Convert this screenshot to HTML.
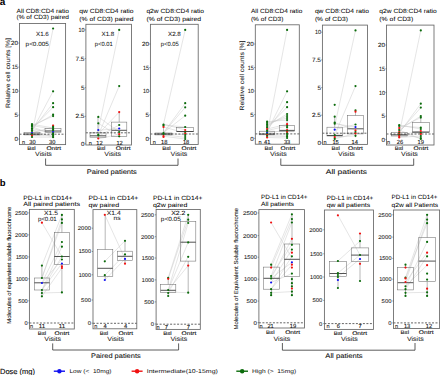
<!DOCTYPE html>
<html><head><meta charset="utf-8"><style>
html,body{margin:0;padding:0;background:#fff;width:440px;height:375px;overflow:hidden}
svg{display:block}
text{font-family:"Liberation Sans", sans-serif;text-rendering:geometricPrecision;white-space:pre}
</style></head><body>
<svg width="440" height="375" viewBox="0 0 440 375">
<rect width="440" height="375" fill="#fff"/>
<line x1="32" y1="134.0" x2="53.1" y2="28.5" stroke="#c4c4c4" stroke-width="0.45"/>
<line x1="32" y1="131.0" x2="53.1" y2="91.3" stroke="#c4c4c4" stroke-width="0.45"/>
<line x1="32" y1="130.0" x2="53.1" y2="103.2" stroke="#c4c4c4" stroke-width="0.45"/>
<line x1="32" y1="128.5" x2="53.1" y2="107.2" stroke="#c4c4c4" stroke-width="0.45"/>
<line x1="32" y1="126.8" x2="53.1" y2="114.6" stroke="#c4c4c4" stroke-width="0.45"/>
<line x1="32" y1="125.5" x2="53.1" y2="116.1" stroke="#c4c4c4" stroke-width="0.45"/>
<line x1="32" y1="124.2" x2="53.1" y2="128.0" stroke="#c4c4c4" stroke-width="0.45"/>
<line x1="32" y1="133.0" x2="53.1" y2="126.8" stroke="#c4c4c4" stroke-width="0.45"/>
<line x1="32" y1="131.0" x2="53.1" y2="130.5" stroke="#c4c4c4" stroke-width="0.45"/>
<line x1="32" y1="128.5" x2="53.1" y2="133.3" stroke="#c4c4c4" stroke-width="0.45"/>
<line x1="32" y1="126.8" x2="53.1" y2="134.5" stroke="#c4c4c4" stroke-width="0.45"/>
<line x1="32" y1="135.5" x2="53.1" y2="135.8" stroke="#c4c4c4" stroke-width="0.45"/>
<line x1="32" y1="137.0" x2="53.1" y2="137.2" stroke="#c4c4c4" stroke-width="0.45"/>
<line x1="32" y1="125.5" x2="53.1" y2="129.3" stroke="#c4c4c4" stroke-width="0.45"/>
<line x1="32" y1="130.0" x2="53.1" y2="137.2" stroke="#c4c4c4" stroke-width="0.45"/>
<line x1="32" y1="134.0" x2="53.1" y2="135.0" stroke="#c4c4c4" stroke-width="0.45"/>
<line x1="32" y1="123.8" x2="32" y2="132.6" stroke="#9a9a9a" stroke-width="0.7"/>
<line x1="32" y1="134.9" x2="32" y2="137.2" stroke="#9a9a9a" stroke-width="0.7"/>
<rect x="24.0" y="132.6" width="16" height="2.3000000000000114" stroke="#707070" stroke-width="0.55" fill="none"/>
<line x1="24.0" y1="134.0" x2="40.0" y2="134.0" stroke="#404040" stroke-width="0.9"/>
<line x1="53" y1="124.5" x2="53" y2="128.4" stroke="#9a9a9a" stroke-width="0.7"/>
<line x1="53" y1="132.2" x2="53" y2="137.5" stroke="#9a9a9a" stroke-width="0.7"/>
<rect x="45.0" y="128.4" width="16" height="3.799999999999983" stroke="#707070" stroke-width="0.55" fill="none"/>
<line x1="45.0" y1="131.0" x2="61.0" y2="131.0" stroke="#404040" stroke-width="0.9"/>
<line x1="19.5" y1="134.2" x2="65.6" y2="134.2" stroke="#222" stroke-width="0.7" stroke-dasharray="2 1.5"/>
<circle cx="32" cy="124.2" r="1.1" fill="#0b6b0b"/>
<circle cx="32" cy="125.5" r="1.1" fill="#0b6b0b"/>
<circle cx="32" cy="126.8" r="1.1" fill="#0b6b0b"/>
<circle cx="32" cy="128.5" r="1.1" fill="#0b6b0b"/>
<circle cx="32" cy="130.0" r="1.1" fill="#0b6b0b"/>
<circle cx="32" cy="131.0" r="1.1" fill="#0b6b0b"/>
<circle cx="32" cy="133.0" r="1.1" fill="#1010f0"/>
<circle cx="32" cy="134.0" r="1.1" fill="#0b6b0b"/>
<circle cx="32" cy="135.5" r="1.1" fill="#f01010"/>
<circle cx="32" cy="137.0" r="1.1" fill="#0b6b0b"/>
<circle cx="53.1" cy="28.5" r="1.1" fill="#0b6b0b"/>
<circle cx="53.1" cy="91.3" r="1.1" fill="#0b6b0b"/>
<circle cx="53.1" cy="103.2" r="1.1" fill="#0b6b0b"/>
<circle cx="53.1" cy="107.2" r="1.1" fill="#0b6b0b"/>
<circle cx="53.1" cy="114.6" r="1.1" fill="#0b6b0b"/>
<circle cx="53.1" cy="116.1" r="1.1" fill="#0b6b0b"/>
<circle cx="53.1" cy="125.5" r="1.1" fill="#f01010"/>
<circle cx="53.1" cy="126.8" r="1.1" fill="#0b6b0b"/>
<circle cx="53.1" cy="128.0" r="1.1" fill="#0b6b0b"/>
<circle cx="53.1" cy="129.3" r="1.1" fill="#0b6b0b"/>
<circle cx="53.1" cy="130.5" r="1.1" fill="#0b6b0b"/>
<circle cx="53.1" cy="132.0" r="1.1" fill="#1010f0"/>
<circle cx="53.1" cy="133.3" r="1.1" fill="#0b6b0b"/>
<circle cx="53.1" cy="134.5" r="1.1" fill="#0b6b0b"/>
<circle cx="53.1" cy="135.8" r="1.1" fill="#0b6b0b"/>
<circle cx="53.1" cy="137.2" r="1.1" fill="#0b6b0b"/>
<rect x="19.5" y="23.5" width="46.099999999999994" height="121.1" stroke="#666666" stroke-width="0.85" fill="none"/>
<line x1="18.3" y1="139.1" x2="19.5" y2="139.1" stroke="#444" stroke-width="0.5"/>
<text x="18.0" y="141.2" font-size="6.0" text-anchor="end" font-weight="normal" fill="#222" stroke="#222" stroke-width="0.08" textLength="3.5" lengthAdjust="spacingAndGlyphs">0</text>
<line x1="18.3" y1="115.1" x2="19.5" y2="115.1" stroke="#444" stroke-width="0.5"/>
<text x="18.0" y="117.19999999999999" font-size="6.0" text-anchor="end" font-weight="normal" fill="#222" stroke="#222" stroke-width="0.08" textLength="3.5" lengthAdjust="spacingAndGlyphs">5</text>
<line x1="18.3" y1="91.1" x2="19.5" y2="91.1" stroke="#444" stroke-width="0.5"/>
<text x="18.0" y="93.19999999999999" font-size="6.0" text-anchor="end" font-weight="normal" fill="#222" stroke="#222" stroke-width="0.08" textLength="6.02" lengthAdjust="spacingAndGlyphs">10</text>
<line x1="18.3" y1="67.1" x2="19.5" y2="67.1" stroke="#444" stroke-width="0.5"/>
<text x="18.0" y="69.19999999999999" font-size="6.0" text-anchor="end" font-weight="normal" fill="#222" stroke="#222" stroke-width="0.08" textLength="6.02" lengthAdjust="spacingAndGlyphs">15</text>
<line x1="18.3" y1="43.1" x2="19.5" y2="43.1" stroke="#444" stroke-width="0.5"/>
<text x="18.0" y="45.2" font-size="6.0" text-anchor="end" font-weight="normal" fill="#222" stroke="#222" stroke-width="0.08" textLength="7.0" lengthAdjust="spacingAndGlyphs">20</text>
<text x="22.0" y="144.4" font-size="5.6" text-anchor="start" font-weight="normal" fill="#222" stroke="#222" stroke-width="0.08">n</text>
<text x="32.5" y="144.4" font-size="5.9" text-anchor="middle" font-weight="normal" fill="#111" stroke="#111" stroke-width="0.1" textLength="6.4" lengthAdjust="spacingAndGlyphs">30</text>
<text x="52.2" y="144.4" font-size="5.9" text-anchor="middle" font-weight="normal" fill="#111" stroke="#111" stroke-width="0.1" textLength="6.4" lengthAdjust="spacingAndGlyphs">30</text>
<text x="31.5" y="149.6" font-size="5.2" text-anchor="middle" font-weight="normal" fill="#111" stroke="#111" stroke-width="0.1" textLength="8.4" lengthAdjust="spacingAndGlyphs">Bsl</text>
<text x="53.8" y="149.6" font-size="5.2" text-anchor="middle" font-weight="normal" fill="#111" stroke="#111" stroke-width="0.1" textLength="14.8" lengthAdjust="spacingAndGlyphs">Ontrt</text>
<text x="43.5" y="156.1" font-size="6.3" text-anchor="middle" font-weight="normal" fill="#111" stroke="#111" stroke-width="0.04" textLength="16.8" lengthAdjust="spacingAndGlyphs">Visits</text>
<text x="16.5" y="12.8" font-size="6.0" text-anchor="start" font-weight="normal" fill="#000" stroke="#000" stroke-width="0.03" textLength="52.5" lengthAdjust="spacingAndGlyphs">All CD8:CD4 ratio</text>
<text x="16.5" y="19.2" font-size="6.0" text-anchor="start" font-weight="normal" fill="#000" stroke="#000" stroke-width="0.03" textLength="52.5" lengthAdjust="spacingAndGlyphs">(% of CD3) paired</text>
<text x="36" y="36.2" font-size="6.0" text-anchor="start" font-weight="normal" fill="#111" stroke="#111" stroke-width="0.04" textLength="12.8" lengthAdjust="spacingAndGlyphs">X1.6</text>
<text x="25.6" y="45.6" font-size="6.0" text-anchor="start" font-weight="normal" fill="#111" stroke="#111" stroke-width="0.04" textLength="23.2" lengthAdjust="spacingAndGlyphs">p&lt;0.005</text>
<line x1="98.3" y1="130.3" x2="119.2" y2="29.9" stroke="#c4c4c4" stroke-width="0.45"/>
<line x1="98.3" y1="135.1" x2="119.2" y2="86.1" stroke="#c4c4c4" stroke-width="0.45"/>
<line x1="98.3" y1="134.0" x2="119.2" y2="112.1" stroke="#c4c4c4" stroke-width="0.45"/>
<line x1="98.3" y1="123.3" x2="119.2" y2="136.3" stroke="#c4c4c4" stroke-width="0.45"/>
<line x1="98.3" y1="116.9" x2="119.2" y2="132.0" stroke="#c4c4c4" stroke-width="0.45"/>
<line x1="98.3" y1="130.3" x2="119.2" y2="128.5" stroke="#c4c4c4" stroke-width="0.45"/>
<line x1="98.3" y1="138.9" x2="119.2" y2="134.2" stroke="#c4c4c4" stroke-width="0.45"/>
<line x1="98.3" y1="136.3" x2="119.2" y2="125.0" stroke="#c4c4c4" stroke-width="0.45"/>
<line x1="98.0" y1="116.9" x2="98.0" y2="132.9" stroke="#9a9a9a" stroke-width="0.7"/>
<line x1="98.0" y1="137.2" x2="98.0" y2="138.9" stroke="#9a9a9a" stroke-width="0.7"/>
<rect x="90.0" y="132.9" width="16" height="4.299999999999983" stroke="#707070" stroke-width="0.55" fill="none"/>
<line x1="90.0" y1="135.8" x2="106.0" y2="135.8" stroke="#404040" stroke-width="0.9"/>
<line x1="119.2" y1="112.1" x2="119.2" y2="122.1" stroke="#9a9a9a" stroke-width="0.7"/>
<line x1="119.2" y1="136.3" x2="119.2" y2="136.3" stroke="#9a9a9a" stroke-width="0.7"/>
<rect x="111.60000000000001" y="122.1" width="15.2" height="14.200000000000017" stroke="#707070" stroke-width="0.55" fill="none"/>
<line x1="111.60000000000001" y1="130.3" x2="126.8" y2="130.3" stroke="#404040" stroke-width="0.9"/>
<line x1="85.9" y1="132.8" x2="131.5" y2="132.8" stroke="#222" stroke-width="0.7" stroke-dasharray="2 1.5"/>
<circle cx="98.3" cy="116.9" r="1.1" fill="#0b6b0b"/>
<circle cx="98.3" cy="123.3" r="1.1" fill="#0b6b0b"/>
<circle cx="98.3" cy="130.0" r="1.1" fill="#1010f0"/>
<circle cx="98.3" cy="134.5" r="1.1" fill="#0b6b0b"/>
<circle cx="98.3" cy="135.5" r="1.1" fill="#0b6b0b"/>
<circle cx="98.3" cy="138.5" r="1.1" fill="#f01010"/>
<circle cx="119.2" cy="29.9" r="1.1" fill="#0b6b0b"/>
<circle cx="119.2" cy="86.1" r="1.1" fill="#0b6b0b"/>
<circle cx="119.2" cy="112.1" r="1.1" fill="#f01010"/>
<circle cx="119.2" cy="125.0" r="1.1" fill="#0b6b0b"/>
<circle cx="119.2" cy="128.5" r="1.1" fill="#1010f0"/>
<circle cx="119.2" cy="132.0" r="1.1" fill="#0b6b0b"/>
<circle cx="119.2" cy="134.2" r="1.1" fill="#f01010"/>
<circle cx="119.2" cy="136.3" r="1.1" fill="#0b6b0b"/>
<rect x="85.9" y="24.3" width="45.599999999999994" height="120.7" stroke="#666666" stroke-width="0.85" fill="none"/>
<line x1="84.7" y1="143.8" x2="85.9" y2="143.8" stroke="#444" stroke-width="0.5"/>
<text x="84.4" y="145.9" font-size="6.0" text-anchor="end" font-weight="normal" fill="#222" stroke="#222" stroke-width="0.08" textLength="3.5" lengthAdjust="spacingAndGlyphs">0</text>
<line x1="84.7" y1="116.3" x2="85.9" y2="116.3" stroke="#444" stroke-width="0.5"/>
<text x="84.4" y="118.39999999999999" font-size="6.0" text-anchor="end" font-weight="normal" fill="#222" stroke="#222" stroke-width="0.08" textLength="9.0" lengthAdjust="spacingAndGlyphs">2.5</text>
<line x1="84.7" y1="87.6" x2="85.9" y2="87.6" stroke="#444" stroke-width="0.5"/>
<text x="84.4" y="89.69999999999999" font-size="6.0" text-anchor="end" font-weight="normal" fill="#222" stroke="#222" stroke-width="0.08" textLength="3.5" lengthAdjust="spacingAndGlyphs">5</text>
<line x1="84.7" y1="58.6" x2="85.9" y2="58.6" stroke="#444" stroke-width="0.5"/>
<text x="84.4" y="60.7" font-size="6.0" text-anchor="end" font-weight="normal" fill="#222" stroke="#222" stroke-width="0.08" textLength="9.0" lengthAdjust="spacingAndGlyphs">7.5</text>
<line x1="84.7" y1="29.9" x2="85.9" y2="29.9" stroke="#444" stroke-width="0.5"/>
<text x="84.4" y="32.0" font-size="6.0" text-anchor="end" font-weight="normal" fill="#222" stroke="#222" stroke-width="0.08" textLength="6.02" lengthAdjust="spacingAndGlyphs">10</text>
<text x="88.80000000000001" y="144.6" font-size="5.6" text-anchor="start" font-weight="normal" fill="#222" stroke="#222" stroke-width="0.08">n</text>
<text x="99.5" y="144.6" font-size="5.9" text-anchor="middle" font-weight="normal" fill="#111" stroke="#111" stroke-width="0.1" textLength="6.4" lengthAdjust="spacingAndGlyphs">12</text>
<text x="119.6" y="144.6" font-size="5.9" text-anchor="middle" font-weight="normal" fill="#111" stroke="#111" stroke-width="0.1" textLength="6.4" lengthAdjust="spacingAndGlyphs">12</text>
<text x="101.1" y="149.9" font-size="5.2" text-anchor="middle" font-weight="normal" fill="#111" stroke="#111" stroke-width="0.1" textLength="8.4" lengthAdjust="spacingAndGlyphs">Bsl</text>
<text x="123.10000000000001" y="149.9" font-size="5.2" text-anchor="middle" font-weight="normal" fill="#111" stroke="#111" stroke-width="0.1" textLength="14.8" lengthAdjust="spacingAndGlyphs">Ontrt</text>
<text x="112.7" y="156.4" font-size="6.3" text-anchor="middle" font-weight="normal" fill="#111" stroke="#111" stroke-width="0.04" textLength="16.8" lengthAdjust="spacingAndGlyphs">Visits</text>
<text x="79.3" y="13.2" font-size="6.0" text-anchor="start" font-weight="normal" fill="#000" stroke="#000" stroke-width="0.03" textLength="54.3" lengthAdjust="spacingAndGlyphs">qw CD8:CD4 ratio</text>
<text x="79.3" y="20.9" font-size="6.0" text-anchor="start" font-weight="normal" fill="#000" stroke="#000" stroke-width="0.03" textLength="54.3" lengthAdjust="spacingAndGlyphs">(% of CD3) paired</text>
<text x="101.5" y="36.3" font-size="6.0" text-anchor="start" font-weight="normal" fill="#111" stroke="#111" stroke-width="0.04" textLength="12.8" lengthAdjust="spacingAndGlyphs">X1.8</text>
<text x="94.8" y="45.6" font-size="6.0" text-anchor="start" font-weight="normal" fill="#111" stroke="#111" stroke-width="0.04" textLength="18" lengthAdjust="spacingAndGlyphs">p&lt;0.01</text>
<line x1="163.5" y1="124.1" x2="185.2" y2="29.9" stroke="#c4c4c4" stroke-width="0.45"/>
<line x1="163.5" y1="132.7" x2="185.2" y2="103.3" stroke="#c4c4c4" stroke-width="0.45"/>
<line x1="163.5" y1="132.7" x2="185.2" y2="107.4" stroke="#c4c4c4" stroke-width="0.45"/>
<line x1="163.5" y1="132.7" x2="185.2" y2="115.7" stroke="#c4c4c4" stroke-width="0.45"/>
<line x1="163.5" y1="125.0" x2="185.2" y2="127.0" stroke="#c4c4c4" stroke-width="0.45"/>
<line x1="163.5" y1="124.1" x2="185.2" y2="130.0" stroke="#c4c4c4" stroke-width="0.45"/>
<line x1="163.5" y1="127.0" x2="185.2" y2="133.0" stroke="#c4c4c4" stroke-width="0.45"/>
<line x1="163.5" y1="134.6" x2="185.2" y2="137.4" stroke="#c4c4c4" stroke-width="0.45"/>
<line x1="163.5" y1="136.3" x2="185.2" y2="139.0" stroke="#c4c4c4" stroke-width="0.45"/>
<line x1="163.5" y1="133.0" x2="185.2" y2="135.0" stroke="#c4c4c4" stroke-width="0.45"/>
<line x1="163.5" y1="124.8" x2="163.5" y2="133.0" stroke="#9a9a9a" stroke-width="0.7"/>
<line x1="163.5" y1="134.9" x2="163.5" y2="137.5" stroke="#9a9a9a" stroke-width="0.7"/>
<rect x="155.0" y="133.0" width="17" height="1.9000000000000057" stroke="#707070" stroke-width="0.55" fill="none"/>
<line x1="155.0" y1="134.0" x2="172.0" y2="134.0" stroke="#404040" stroke-width="0.9"/>
<line x1="185.2" y1="126.5" x2="185.2" y2="127.6" stroke="#9a9a9a" stroke-width="0.7"/>
<line x1="185.2" y1="131.7" x2="185.2" y2="139.5" stroke="#9a9a9a" stroke-width="0.7"/>
<rect x="176.7" y="127.6" width="17" height="4.099999999999994" stroke="#707070" stroke-width="0.55" fill="none"/>
<line x1="176.7" y1="131.5" x2="193.7" y2="131.5" stroke="#404040" stroke-width="0.9"/>
<line x1="150.4" y1="134.0" x2="198.2" y2="134.0" stroke="#222" stroke-width="0.7" stroke-dasharray="2 1.5"/>
<circle cx="163.5" cy="124.6" r="1.1" fill="#0b6b0b"/>
<circle cx="163.5" cy="125.7" r="1.1" fill="#0b6b0b"/>
<circle cx="163.5" cy="127.0" r="1.1" fill="#f01010"/>
<circle cx="163.5" cy="133.0" r="1.1" fill="#0b6b0b"/>
<circle cx="163.5" cy="134.0" r="1.1" fill="#0b6b0b"/>
<circle cx="163.5" cy="136.0" r="1.1" fill="#f01010"/>
<circle cx="163.5" cy="137.0" r="1.1" fill="#f01010"/>
<circle cx="185.2" cy="29.9" r="1.1" fill="#0b6b0b"/>
<circle cx="185.2" cy="103.2" r="1.1" fill="#0b6b0b"/>
<circle cx="185.2" cy="107.3" r="1.1" fill="#0b6b0b"/>
<circle cx="185.2" cy="115.7" r="1.1" fill="#0b6b0b"/>
<circle cx="185.2" cy="127.0" r="1.1" fill="#0b6b0b"/>
<circle cx="185.2" cy="130.0" r="1.1" fill="#f01010"/>
<circle cx="185.2" cy="132.0" r="1.1" fill="#0b6b0b"/>
<circle cx="185.2" cy="133.5" r="1.1" fill="#f01010"/>
<circle cx="185.2" cy="135.0" r="1.1" fill="#0b6b0b"/>
<circle cx="185.2" cy="137.0" r="1.1" fill="#0b6b0b"/>
<circle cx="185.2" cy="139.0" r="1.1" fill="#0b6b0b"/>
<rect x="150.4" y="24.3" width="47.79999999999998" height="120.2" stroke="#666666" stroke-width="0.85" fill="none"/>
<line x1="149.20000000000002" y1="138.4" x2="150.4" y2="138.4" stroke="#444" stroke-width="0.5"/>
<text x="148.9" y="140.5" font-size="6.0" text-anchor="end" font-weight="normal" fill="#222" stroke="#222" stroke-width="0.08" textLength="3.5" lengthAdjust="spacingAndGlyphs">0</text>
<line x1="149.20000000000002" y1="114.8" x2="150.4" y2="114.8" stroke="#444" stroke-width="0.5"/>
<text x="148.9" y="116.89999999999999" font-size="6.0" text-anchor="end" font-weight="normal" fill="#222" stroke="#222" stroke-width="0.08" textLength="3.5" lengthAdjust="spacingAndGlyphs">5</text>
<line x1="149.20000000000002" y1="91.2" x2="150.4" y2="91.2" stroke="#444" stroke-width="0.5"/>
<text x="148.9" y="93.3" font-size="6.0" text-anchor="end" font-weight="normal" fill="#222" stroke="#222" stroke-width="0.08" textLength="6.02" lengthAdjust="spacingAndGlyphs">10</text>
<line x1="149.20000000000002" y1="67.6" x2="150.4" y2="67.6" stroke="#444" stroke-width="0.5"/>
<text x="148.9" y="69.69999999999999" font-size="6.0" text-anchor="end" font-weight="normal" fill="#222" stroke="#222" stroke-width="0.08" textLength="6.02" lengthAdjust="spacingAndGlyphs">15</text>
<line x1="149.20000000000002" y1="44.0" x2="150.4" y2="44.0" stroke="#444" stroke-width="0.5"/>
<text x="148.9" y="46.1" font-size="6.0" text-anchor="end" font-weight="normal" fill="#222" stroke="#222" stroke-width="0.08" textLength="7.0" lengthAdjust="spacingAndGlyphs">20</text>
<text x="152.8" y="144.2" font-size="5.6" text-anchor="start" font-weight="normal" fill="#222" stroke="#222" stroke-width="0.08">n</text>
<text x="164.2" y="144.2" font-size="5.9" text-anchor="middle" font-weight="normal" fill="#111" stroke="#111" stroke-width="0.1" textLength="6.4" lengthAdjust="spacingAndGlyphs">18</text>
<text x="186.1" y="144.2" font-size="5.9" text-anchor="middle" font-weight="normal" fill="#111" stroke="#111" stroke-width="0.1" textLength="6.4" lengthAdjust="spacingAndGlyphs">18</text>
<text x="166.5" y="149.6" font-size="5.2" text-anchor="middle" font-weight="normal" fill="#111" stroke="#111" stroke-width="0.1" textLength="8.4" lengthAdjust="spacingAndGlyphs">Bsl</text>
<text x="188.89999999999998" y="149.6" font-size="5.2" text-anchor="middle" font-weight="normal" fill="#111" stroke="#111" stroke-width="0.1" textLength="14.8" lengthAdjust="spacingAndGlyphs">Ontrt</text>
<text x="179.0" y="156.3" font-size="6.3" text-anchor="middle" font-weight="normal" fill="#111" stroke="#111" stroke-width="0.04" textLength="16.8" lengthAdjust="spacingAndGlyphs">Visits</text>
<text x="146.4" y="13.1" font-size="6.0" text-anchor="start" font-weight="normal" fill="#000" stroke="#000" stroke-width="0.03" textLength="57.6" lengthAdjust="spacingAndGlyphs">q2w CD8:CD4 ratio</text>
<text x="146.4" y="20.9" font-size="6.0" text-anchor="start" font-weight="normal" fill="#000" stroke="#000" stroke-width="0.03" textLength="54.8" lengthAdjust="spacingAndGlyphs">(% of CD3) paired</text>
<text x="168" y="36.3" font-size="6.0" text-anchor="start" font-weight="normal" fill="#111" stroke="#111" stroke-width="0.04" textLength="12.8" lengthAdjust="spacingAndGlyphs">X2.8</text>
<text x="160.8" y="45.6" font-size="6.0" text-anchor="start" font-weight="normal" fill="#111" stroke="#111" stroke-width="0.04" textLength="18" lengthAdjust="spacingAndGlyphs">p&lt;0.05</text>
<line x1="267.1" y1="134.0" x2="287.1" y2="29.9" stroke="#c4c4c4" stroke-width="0.45"/>
<line x1="267.1" y1="132.0" x2="287.1" y2="91.3" stroke="#c4c4c4" stroke-width="0.45"/>
<line x1="267.1" y1="130.5" x2="287.1" y2="102.2" stroke="#c4c4c4" stroke-width="0.45"/>
<line x1="267.1" y1="127.5" x2="287.1" y2="107.2" stroke="#c4c4c4" stroke-width="0.45"/>
<line x1="267.1" y1="126.0" x2="287.1" y2="114.0" stroke="#c4c4c4" stroke-width="0.45"/>
<line x1="267.1" y1="124.5" x2="287.1" y2="116.0" stroke="#c4c4c4" stroke-width="0.45"/>
<line x1="267.1" y1="123.0" x2="287.1" y2="118.0" stroke="#c4c4c4" stroke-width="0.45"/>
<line x1="267.1" y1="121.7" x2="287.1" y2="120.0" stroke="#c4c4c4" stroke-width="0.45"/>
<line x1="267.1" y1="129.0" x2="287.1" y2="124.2" stroke="#c4c4c4" stroke-width="0.45"/>
<line x1="267.1" y1="130.5" x2="287.1" y2="126.0" stroke="#c4c4c4" stroke-width="0.45"/>
<line x1="267.1" y1="133.0" x2="287.1" y2="130.0" stroke="#c4c4c4" stroke-width="0.45"/>
<line x1="267.1" y1="134.0" x2="287.1" y2="133.5" stroke="#c4c4c4" stroke-width="0.45"/>
<line x1="267.1" y1="136.0" x2="287.1" y2="136.5" stroke="#c4c4c4" stroke-width="0.45"/>
<line x1="267.1" y1="137.5" x2="287.1" y2="138.0" stroke="#c4c4c4" stroke-width="0.45"/>
<line x1="267.1" y1="135.0" x2="287.1" y2="135.0" stroke="#c4c4c4" stroke-width="0.45"/>
<line x1="267.1" y1="132.0" x2="287.1" y2="131.0" stroke="#c4c4c4" stroke-width="0.45"/>
<line x1="267.1" y1="121.7" x2="267.1" y2="131.2" stroke="#9a9a9a" stroke-width="0.7"/>
<line x1="267.1" y1="134.8" x2="267.1" y2="137.5" stroke="#9a9a9a" stroke-width="0.7"/>
<rect x="259.6" y="131.2" width="15" height="3.6000000000000227" stroke="#707070" stroke-width="0.55" fill="none"/>
<line x1="259.6" y1="134.0" x2="274.6" y2="134.0" stroke="#404040" stroke-width="0.9"/>
<line x1="287.1" y1="116" x2="287.1" y2="125.3" stroke="#9a9a9a" stroke-width="0.7"/>
<line x1="287.1" y1="131.2" x2="287.1" y2="137.8" stroke="#9a9a9a" stroke-width="0.7"/>
<rect x="279.6" y="125.3" width="15" height="5.8999999999999915" stroke="#707070" stroke-width="0.55" fill="none"/>
<line x1="279.6" y1="130.4" x2="294.6" y2="130.4" stroke="#404040" stroke-width="0.9"/>
<line x1="255.3" y1="133.9" x2="299.3" y2="133.9" stroke="#222" stroke-width="0.7" stroke-dasharray="2 1.5"/>
<circle cx="267.1" cy="121.7" r="1.1" fill="#0b6b0b"/>
<circle cx="267.1" cy="123.0" r="1.1" fill="#0b6b0b"/>
<circle cx="267.1" cy="124.5" r="1.1" fill="#0b6b0b"/>
<circle cx="267.1" cy="126.0" r="1.1" fill="#0b6b0b"/>
<circle cx="267.1" cy="127.5" r="1.1" fill="#0b6b0b"/>
<circle cx="267.1" cy="129.0" r="1.1" fill="#f01010"/>
<circle cx="267.1" cy="130.5" r="1.1" fill="#0b6b0b"/>
<circle cx="267.1" cy="132.0" r="1.1" fill="#0b6b0b"/>
<circle cx="267.1" cy="133.0" r="1.1" fill="#1010f0"/>
<circle cx="267.1" cy="134.0" r="1.1" fill="#0b6b0b"/>
<circle cx="267.1" cy="135.0" r="1.1" fill="#f01010"/>
<circle cx="267.1" cy="136.0" r="1.1" fill="#0b6b0b"/>
<circle cx="267.1" cy="137.5" r="1.1" fill="#f01010"/>
<circle cx="287.1" cy="29.9" r="1.1" fill="#0b6b0b"/>
<circle cx="287.1" cy="91.3" r="1.1" fill="#0b6b0b"/>
<circle cx="287.1" cy="102.2" r="1.1" fill="#0b6b0b"/>
<circle cx="287.1" cy="107.2" r="1.1" fill="#0b6b0b"/>
<circle cx="287.1" cy="114.0" r="1.1" fill="#0b6b0b"/>
<circle cx="287.1" cy="116.0" r="1.1" fill="#0b6b0b"/>
<circle cx="287.1" cy="118.0" r="1.1" fill="#0b6b0b"/>
<circle cx="287.1" cy="120.0" r="1.1" fill="#0b6b0b"/>
<circle cx="287.1" cy="124.2" r="1.1" fill="#f01010"/>
<circle cx="287.1" cy="126.0" r="1.1" fill="#0b6b0b"/>
<circle cx="287.1" cy="127.5" r="1.1" fill="#0b6b0b"/>
<circle cx="287.1" cy="130.0" r="1.1" fill="#f01010"/>
<circle cx="287.1" cy="131.0" r="1.1" fill="#0b6b0b"/>
<circle cx="287.1" cy="132.0" r="1.1" fill="#f01010"/>
<circle cx="287.1" cy="133.5" r="1.1" fill="#0b6b0b"/>
<circle cx="287.1" cy="135.0" r="1.1" fill="#0b6b0b"/>
<circle cx="287.1" cy="136.5" r="1.1" fill="#0b6b0b"/>
<circle cx="287.1" cy="138.0" r="1.1" fill="#0b6b0b"/>
<rect x="255.3" y="24.8" width="44.0" height="119.39999999999999" stroke="#666666" stroke-width="0.85" fill="none"/>
<line x1="254.10000000000002" y1="138.4" x2="255.3" y2="138.4" stroke="#444" stroke-width="0.5"/>
<text x="253.8" y="140.5" font-size="6.0" text-anchor="end" font-weight="normal" fill="#222" stroke="#222" stroke-width="0.08" textLength="3.5" lengthAdjust="spacingAndGlyphs">0</text>
<line x1="254.10000000000002" y1="114.6" x2="255.3" y2="114.6" stroke="#444" stroke-width="0.5"/>
<text x="253.8" y="116.69999999999999" font-size="6.0" text-anchor="end" font-weight="normal" fill="#222" stroke="#222" stroke-width="0.08" textLength="3.5" lengthAdjust="spacingAndGlyphs">5</text>
<line x1="254.10000000000002" y1="91.0" x2="255.3" y2="91.0" stroke="#444" stroke-width="0.5"/>
<text x="253.8" y="93.1" font-size="6.0" text-anchor="end" font-weight="normal" fill="#222" stroke="#222" stroke-width="0.08" textLength="6.02" lengthAdjust="spacingAndGlyphs">10</text>
<line x1="254.10000000000002" y1="67.5" x2="255.3" y2="67.5" stroke="#444" stroke-width="0.5"/>
<text x="253.8" y="69.6" font-size="6.0" text-anchor="end" font-weight="normal" fill="#222" stroke="#222" stroke-width="0.08" textLength="6.02" lengthAdjust="spacingAndGlyphs">15</text>
<line x1="254.10000000000002" y1="44.0" x2="255.3" y2="44.0" stroke="#444" stroke-width="0.5"/>
<text x="253.8" y="46.1" font-size="6.0" text-anchor="end" font-weight="normal" fill="#222" stroke="#222" stroke-width="0.08" textLength="7.0" lengthAdjust="spacingAndGlyphs">20</text>
<text x="258.40000000000003" y="144.0" font-size="5.6" text-anchor="start" font-weight="normal" fill="#222" stroke="#222" stroke-width="0.08">n</text>
<text x="267.2" y="144.0" font-size="5.9" text-anchor="middle" font-weight="normal" fill="#111" stroke="#111" stroke-width="0.1" textLength="6.4" lengthAdjust="spacingAndGlyphs">41</text>
<text x="287.1" y="144.0" font-size="5.9" text-anchor="middle" font-weight="normal" fill="#111" stroke="#111" stroke-width="0.1" textLength="6.4" lengthAdjust="spacingAndGlyphs">33</text>
<text x="268.6" y="149.6" font-size="5.2" text-anchor="middle" font-weight="normal" fill="#111" stroke="#111" stroke-width="0.1" textLength="8.4" lengthAdjust="spacingAndGlyphs">Bsl</text>
<text x="287.90000000000003" y="149.6" font-size="5.2" text-anchor="middle" font-weight="normal" fill="#111" stroke="#111" stroke-width="0.1" textLength="14.8" lengthAdjust="spacingAndGlyphs">Ontrt</text>
<text x="278.4" y="156.2" font-size="6.3" text-anchor="middle" font-weight="normal" fill="#111" stroke="#111" stroke-width="0.04" textLength="16.8" lengthAdjust="spacingAndGlyphs">Visits</text>
<text x="250.9" y="12.9" font-size="6.0" text-anchor="start" font-weight="normal" fill="#000" stroke="#000" stroke-width="0.03" textLength="51.5" lengthAdjust="spacingAndGlyphs">All CD8:CD4 ratio</text>
<text x="250.9" y="20.9" font-size="6.0" text-anchor="start" font-weight="normal" fill="#000" stroke="#000" stroke-width="0.03" textLength="32.5" lengthAdjust="spacingAndGlyphs">(% of CD3)</text>
<line x1="334.7" y1="126.0" x2="355.5" y2="30.4" stroke="#c4c4c4" stroke-width="0.45"/>
<line x1="334.7" y1="135.1" x2="355.5" y2="86.1" stroke="#c4c4c4" stroke-width="0.45"/>
<line x1="334.7" y1="123.7" x2="355.5" y2="127.1" stroke="#c4c4c4" stroke-width="0.45"/>
<line x1="334.7" y1="122.5" x2="355.5" y2="130.3" stroke="#c4c4c4" stroke-width="0.45"/>
<line x1="334.7" y1="129.7" x2="355.5" y2="124.5" stroke="#c4c4c4" stroke-width="0.45"/>
<line x1="334.7" y1="137.2" x2="355.5" y2="135.8" stroke="#c4c4c4" stroke-width="0.45"/>
<line x1="334.7" y1="138.9" x2="355.5" y2="133.5" stroke="#c4c4c4" stroke-width="0.45"/>
<line x1="334.7" y1="135.1" x2="355.5" y2="132.0" stroke="#c4c4c4" stroke-width="0.45"/>
<line x1="334.7" y1="116.6" x2="334.7" y2="127.2" stroke="#9a9a9a" stroke-width="0.7"/>
<line x1="334.7" y1="136.0" x2="334.7" y2="139.5" stroke="#9a9a9a" stroke-width="0.7"/>
<rect x="326.95" y="127.2" width="15.5" height="8.799999999999997" stroke="#707070" stroke-width="0.55" fill="none"/>
<line x1="326.95" y1="135.5" x2="342.45" y2="135.5" stroke="#404040" stroke-width="0.9"/>
<line x1="355.5" y1="110.3" x2="355.5" y2="115.5" stroke="#9a9a9a" stroke-width="0.7"/>
<line x1="355.5" y1="133.9" x2="355.5" y2="137.2" stroke="#9a9a9a" stroke-width="0.7"/>
<rect x="347.5" y="115.5" width="16" height="18.400000000000006" stroke="#707070" stroke-width="0.55" fill="none"/>
<line x1="347.5" y1="128.8" x2="363.5" y2="128.8" stroke="#404040" stroke-width="0.9"/>
<line x1="322.4" y1="133.2" x2="367.5" y2="133.2" stroke="#222" stroke-width="0.7" stroke-dasharray="2 1.5"/>
<circle cx="334.7" cy="104.8" r="1.1" fill="#0b6b0b"/>
<circle cx="334.7" cy="116.7" r="1.1" fill="#0b6b0b"/>
<circle cx="334.7" cy="122.5" r="1.1" fill="#0b6b0b"/>
<circle cx="334.7" cy="123.7" r="1.1" fill="#0b6b0b"/>
<circle cx="334.7" cy="129.7" r="1.1" fill="#1010f0"/>
<circle cx="334.7" cy="135.1" r="1.1" fill="#0b6b0b"/>
<circle cx="334.7" cy="137.2" r="1.1" fill="#f01010"/>
<circle cx="334.7" cy="138.9" r="1.1" fill="#0b6b0b"/>
<circle cx="355.5" cy="30.4" r="1.1" fill="#0b6b0b"/>
<circle cx="355.5" cy="86.1" r="1.1" fill="#0b6b0b"/>
<circle cx="355.5" cy="110.3" r="1.1" fill="#0b6b0b"/>
<circle cx="355.5" cy="111.7" r="1.1" fill="#f01010"/>
<circle cx="355.5" cy="124.5" r="1.1" fill="#0b6b0b"/>
<circle cx="355.5" cy="127.1" r="1.1" fill="#1010f0"/>
<circle cx="355.5" cy="130.3" r="1.1" fill="#f01010"/>
<circle cx="355.5" cy="132.0" r="1.1" fill="#0b6b0b"/>
<circle cx="355.5" cy="133.5" r="1.1" fill="#f01010"/>
<circle cx="355.5" cy="135.8" r="1.1" fill="#0b6b0b"/>
<rect x="322.4" y="25.1" width="45.10000000000002" height="119.30000000000001" stroke="#666666" stroke-width="0.85" fill="none"/>
<line x1="321.2" y1="142.9" x2="322.4" y2="142.9" stroke="#444" stroke-width="0.5"/>
<text x="320.9" y="145.0" font-size="6.0" text-anchor="end" font-weight="normal" fill="#222" stroke="#222" stroke-width="0.08" textLength="3.5" lengthAdjust="spacingAndGlyphs">0</text>
<line x1="321.2" y1="115.2" x2="322.4" y2="115.2" stroke="#444" stroke-width="0.5"/>
<text x="320.9" y="117.3" font-size="6.0" text-anchor="end" font-weight="normal" fill="#222" stroke="#222" stroke-width="0.08" textLength="9.0" lengthAdjust="spacingAndGlyphs">2.5</text>
<line x1="321.2" y1="87.6" x2="322.4" y2="87.6" stroke="#444" stroke-width="0.5"/>
<text x="320.9" y="89.69999999999999" font-size="6.0" text-anchor="end" font-weight="normal" fill="#222" stroke="#222" stroke-width="0.08" textLength="3.5" lengthAdjust="spacingAndGlyphs">5</text>
<line x1="321.2" y1="59.9" x2="322.4" y2="59.9" stroke="#444" stroke-width="0.5"/>
<text x="320.9" y="62.0" font-size="6.0" text-anchor="end" font-weight="normal" fill="#222" stroke="#222" stroke-width="0.08" textLength="9.0" lengthAdjust="spacingAndGlyphs">7.5</text>
<line x1="321.2" y1="32.2" x2="322.4" y2="32.2" stroke="#444" stroke-width="0.5"/>
<text x="320.9" y="34.300000000000004" font-size="6.0" text-anchor="end" font-weight="normal" fill="#222" stroke="#222" stroke-width="0.08" textLength="6.02" lengthAdjust="spacingAndGlyphs">10</text>
<text x="323.4" y="144.2" font-size="5.6" text-anchor="start" font-weight="normal" fill="#222" stroke="#222" stroke-width="0.08">n</text>
<text x="335.6" y="144.2" font-size="5.9" text-anchor="middle" font-weight="normal" fill="#111" stroke="#111" stroke-width="0.1" textLength="6.4" lengthAdjust="spacingAndGlyphs">15</text>
<text x="354.7" y="144.2" font-size="5.9" text-anchor="middle" font-weight="normal" fill="#111" stroke="#111" stroke-width="0.1" textLength="6.4" lengthAdjust="spacingAndGlyphs">14</text>
<text x="335.59999999999997" y="149.9" font-size="5.2" text-anchor="middle" font-weight="normal" fill="#111" stroke="#111" stroke-width="0.1" textLength="8.4" lengthAdjust="spacingAndGlyphs">Bsl</text>
<text x="355.5" y="149.9" font-size="5.2" text-anchor="middle" font-weight="normal" fill="#111" stroke="#111" stroke-width="0.1" textLength="14.8" lengthAdjust="spacingAndGlyphs">Ontrt</text>
<text x="346.5" y="156.4" font-size="6.3" text-anchor="middle" font-weight="normal" fill="#111" stroke="#111" stroke-width="0.04" textLength="16.8" lengthAdjust="spacingAndGlyphs">Visits</text>
<text x="314.9" y="12.9" font-size="6.0" text-anchor="start" font-weight="normal" fill="#000" stroke="#000" stroke-width="0.03" textLength="54.1" lengthAdjust="spacingAndGlyphs">qw CD8:CD4 ratio</text>
<text x="314.9" y="20.9" font-size="6.0" text-anchor="start" font-weight="normal" fill="#000" stroke="#000" stroke-width="0.03" textLength="33" lengthAdjust="spacingAndGlyphs">(% of CD3)</text>
<line x1="399.2" y1="134.0" x2="420.8" y2="30.4" stroke="#c4c4c4" stroke-width="0.45"/>
<line x1="399.2" y1="133.0" x2="420.8" y2="103.7" stroke="#c4c4c4" stroke-width="0.45"/>
<line x1="399.2" y1="132.0" x2="420.8" y2="107.6" stroke="#c4c4c4" stroke-width="0.45"/>
<line x1="399.2" y1="130.0" x2="420.8" y2="116.0" stroke="#c4c4c4" stroke-width="0.45"/>
<line x1="399.2" y1="128.0" x2="420.8" y2="117.6" stroke="#c4c4c4" stroke-width="0.45"/>
<line x1="399.2" y1="126.0" x2="420.8" y2="127.5" stroke="#c4c4c4" stroke-width="0.45"/>
<line x1="399.2" y1="125.0" x2="420.8" y2="129.0" stroke="#c4c4c4" stroke-width="0.45"/>
<line x1="399.2" y1="135.0" x2="420.8" y2="131.0" stroke="#c4c4c4" stroke-width="0.45"/>
<line x1="399.2" y1="136.0" x2="420.8" y2="133.0" stroke="#c4c4c4" stroke-width="0.45"/>
<line x1="399.2" y1="137.5" x2="420.8" y2="136.0" stroke="#c4c4c4" stroke-width="0.45"/>
<line x1="399.2" y1="134.0" x2="420.8" y2="138.0" stroke="#c4c4c4" stroke-width="0.45"/>
<line x1="399.2" y1="130.0" x2="420.8" y2="139.0" stroke="#c4c4c4" stroke-width="0.45"/>
<line x1="399.2" y1="125" x2="399.2" y2="132.4" stroke="#9a9a9a" stroke-width="0.7"/>
<line x1="399.2" y1="136.0" x2="399.2" y2="137.8" stroke="#9a9a9a" stroke-width="0.7"/>
<rect x="391.2" y="132.4" width="16" height="3.5999999999999943" stroke="#707070" stroke-width="0.55" fill="none"/>
<line x1="391.2" y1="134.8" x2="407.2" y2="134.8" stroke="#404040" stroke-width="0.9"/>
<line x1="420.8" y1="116" x2="420.8" y2="122.7" stroke="#9a9a9a" stroke-width="0.7"/>
<line x1="420.8" y1="132.4" x2="420.8" y2="139.2" stroke="#9a9a9a" stroke-width="0.7"/>
<rect x="412.3" y="122.7" width="17" height="9.700000000000003" stroke="#707070" stroke-width="0.55" fill="none"/>
<line x1="412.3" y1="132.0" x2="429.3" y2="132.0" stroke="#404040" stroke-width="0.9"/>
<line x1="386.5" y1="134.0" x2="434.0" y2="134.0" stroke="#222" stroke-width="0.7" stroke-dasharray="2 1.5"/>
<circle cx="399.2" cy="125.0" r="1.1" fill="#0b6b0b"/>
<circle cx="399.2" cy="126.0" r="1.1" fill="#0b6b0b"/>
<circle cx="399.2" cy="128.0" r="1.1" fill="#f01010"/>
<circle cx="399.2" cy="130.0" r="1.1" fill="#0b6b0b"/>
<circle cx="399.2" cy="132.0" r="1.1" fill="#f01010"/>
<circle cx="399.2" cy="133.0" r="1.1" fill="#0b6b0b"/>
<circle cx="399.2" cy="134.0" r="1.1" fill="#f01010"/>
<circle cx="399.2" cy="135.0" r="1.1" fill="#0b6b0b"/>
<circle cx="399.2" cy="136.0" r="1.1" fill="#f01010"/>
<circle cx="399.2" cy="137.5" r="1.1" fill="#f01010"/>
<circle cx="420.8" cy="30.4" r="1.1" fill="#0b6b0b"/>
<circle cx="420.8" cy="103.7" r="1.1" fill="#0b6b0b"/>
<circle cx="420.8" cy="107.6" r="1.1" fill="#0b6b0b"/>
<circle cx="420.8" cy="116.0" r="1.1" fill="#0b6b0b"/>
<circle cx="420.8" cy="117.6" r="1.1" fill="#0b6b0b"/>
<circle cx="420.8" cy="127.5" r="1.1" fill="#0b6b0b"/>
<circle cx="420.8" cy="129.0" r="1.1" fill="#0b6b0b"/>
<circle cx="420.8" cy="131.0" r="1.1" fill="#f01010"/>
<circle cx="420.8" cy="133.0" r="1.1" fill="#0b6b0b"/>
<circle cx="420.8" cy="134.0" r="1.1" fill="#f01010"/>
<circle cx="420.8" cy="136.0" r="1.1" fill="#0b6b0b"/>
<circle cx="420.8" cy="138.0" r="1.1" fill="#0b6b0b"/>
<circle cx="420.8" cy="139.0" r="1.1" fill="#0b6b0b"/>
<rect x="386.5" y="25.1" width="47.5" height="119.9" stroke="#666666" stroke-width="0.85" fill="none"/>
<line x1="385.3" y1="139.4" x2="386.5" y2="139.4" stroke="#444" stroke-width="0.5"/>
<text x="385.0" y="141.5" font-size="6.0" text-anchor="end" font-weight="normal" fill="#222" stroke="#222" stroke-width="0.08" textLength="3.5" lengthAdjust="spacingAndGlyphs">0</text>
<line x1="385.3" y1="116.2" x2="386.5" y2="116.2" stroke="#444" stroke-width="0.5"/>
<text x="385.0" y="118.3" font-size="6.0" text-anchor="end" font-weight="normal" fill="#222" stroke="#222" stroke-width="0.08" textLength="3.5" lengthAdjust="spacingAndGlyphs">5</text>
<line x1="385.3" y1="92.4" x2="386.5" y2="92.4" stroke="#444" stroke-width="0.5"/>
<text x="385.0" y="94.5" font-size="6.0" text-anchor="end" font-weight="normal" fill="#222" stroke="#222" stroke-width="0.08" textLength="6.02" lengthAdjust="spacingAndGlyphs">10</text>
<line x1="385.3" y1="68.8" x2="386.5" y2="68.8" stroke="#444" stroke-width="0.5"/>
<text x="385.0" y="70.89999999999999" font-size="6.0" text-anchor="end" font-weight="normal" fill="#222" stroke="#222" stroke-width="0.08" textLength="6.02" lengthAdjust="spacingAndGlyphs">15</text>
<line x1="385.3" y1="45.0" x2="386.5" y2="45.0" stroke="#444" stroke-width="0.5"/>
<text x="385.0" y="47.1" font-size="6.0" text-anchor="end" font-weight="normal" fill="#222" stroke="#222" stroke-width="0.08" textLength="7.0" lengthAdjust="spacingAndGlyphs">20</text>
<text x="387.1" y="144.4" font-size="5.6" text-anchor="start" font-weight="normal" fill="#222" stroke="#222" stroke-width="0.08">n</text>
<text x="399.9" y="144.4" font-size="5.9" text-anchor="middle" font-weight="normal" fill="#111" stroke="#111" stroke-width="0.1" textLength="6.4" lengthAdjust="spacingAndGlyphs">26</text>
<text x="420.8" y="144.4" font-size="5.9" text-anchor="middle" font-weight="normal" fill="#111" stroke="#111" stroke-width="0.1" textLength="6.4" lengthAdjust="spacingAndGlyphs">19</text>
<text x="399.0" y="149.8" font-size="5.2" text-anchor="middle" font-weight="normal" fill="#111" stroke="#111" stroke-width="0.1" textLength="8.4" lengthAdjust="spacingAndGlyphs">Bsl</text>
<text x="421.0" y="149.8" font-size="5.2" text-anchor="middle" font-weight="normal" fill="#111" stroke="#111" stroke-width="0.1" textLength="14.8" lengthAdjust="spacingAndGlyphs">Ontrt</text>
<text x="409.5" y="156.4" font-size="6.3" text-anchor="middle" font-weight="normal" fill="#111" stroke="#111" stroke-width="0.04" textLength="16.8" lengthAdjust="spacingAndGlyphs">Visits</text>
<text x="379.3" y="12.9" font-size="6.0" text-anchor="start" font-weight="normal" fill="#000" stroke="#000" stroke-width="0.03" textLength="57.5" lengthAdjust="spacingAndGlyphs">q2w CD8:CD4 ratio</text>
<text x="379.3" y="20.9" font-size="6.0" text-anchor="start" font-weight="normal" fill="#000" stroke="#000" stroke-width="0.03" textLength="33.9" lengthAdjust="spacingAndGlyphs">(% of CD3)</text>
<line x1="41.9" y1="222.7" x2="61.9" y2="256.5" stroke="#c4c4c4" stroke-width="0.45"/>
<line x1="41.9" y1="265.6" x2="61.9" y2="214.9" stroke="#c4c4c4" stroke-width="0.45"/>
<line x1="41.9" y1="278.0" x2="61.9" y2="219.4" stroke="#c4c4c4" stroke-width="0.45"/>
<line x1="41.9" y1="278.0" x2="61.9" y2="222.9" stroke="#c4c4c4" stroke-width="0.45"/>
<line x1="41.9" y1="283.0" x2="61.9" y2="242.0" stroke="#c4c4c4" stroke-width="0.45"/>
<line x1="41.9" y1="290.0" x2="61.9" y2="246.7" stroke="#c4c4c4" stroke-width="0.45"/>
<line x1="41.9" y1="290.0" x2="61.9" y2="256.5" stroke="#c4c4c4" stroke-width="0.45"/>
<line x1="41.9" y1="283.0" x2="61.9" y2="259.5" stroke="#c4c4c4" stroke-width="0.45"/>
<line x1="41.9" y1="290.0" x2="61.9" y2="263.5" stroke="#c4c4c4" stroke-width="0.45"/>
<line x1="41.9" y1="293.0" x2="61.9" y2="292.4" stroke="#c4c4c4" stroke-width="0.45"/>
<line x1="41.9" y1="296.3" x2="61.9" y2="268.0" stroke="#c4c4c4" stroke-width="0.45"/>
<line x1="41.9" y1="265.6" x2="41.9" y2="278.0" stroke="#9a9a9a" stroke-width="0.7"/>
<line x1="41.9" y1="290.0" x2="41.9" y2="296.3" stroke="#9a9a9a" stroke-width="0.7"/>
<rect x="34.3" y="278.0" width="15.2" height="12.0" stroke="#707070" stroke-width="0.55" fill="none"/>
<line x1="34.3" y1="282.8" x2="49.5" y2="282.8" stroke="#404040" stroke-width="0.9"/>
<line x1="61.9" y1="214.8" x2="61.9" y2="232.5" stroke="#9a9a9a" stroke-width="0.7"/>
<line x1="61.9" y1="264.5" x2="61.9" y2="292.4" stroke="#9a9a9a" stroke-width="0.7"/>
<rect x="54.3" y="232.5" width="15.2" height="32.0" stroke="#707070" stroke-width="0.55" fill="none"/>
<line x1="54.3" y1="256.5" x2="69.5" y2="256.5" stroke="#404040" stroke-width="0.9"/>
<line x1="29.4" y1="323.0" x2="74.3" y2="323.0" stroke="#222" stroke-width="0.7" stroke-dasharray="2 1.5"/>
<circle cx="41.9" cy="222.7" r="1.1" fill="#f01010"/>
<circle cx="41.9" cy="265.6" r="1.1" fill="#0b6b0b"/>
<circle cx="41.9" cy="278.0" r="1.1" fill="#0b6b0b"/>
<circle cx="41.9" cy="283.0" r="1.1" fill="#1010f0"/>
<circle cx="41.9" cy="290.0" r="1.1" fill="#0b6b0b"/>
<circle cx="41.9" cy="293.0" r="1.1" fill="#0b6b0b"/>
<circle cx="41.9" cy="296.3" r="1.1" fill="#0b6b0b"/>
<circle cx="61.9" cy="214.9" r="1.1" fill="#0b6b0b"/>
<circle cx="61.9" cy="219.4" r="1.1" fill="#0b6b0b"/>
<circle cx="61.9" cy="222.9" r="1.1" fill="#0b6b0b"/>
<circle cx="61.9" cy="242.0" r="1.1" fill="#0b6b0b"/>
<circle cx="61.9" cy="246.7" r="1.1" fill="#0b6b0b"/>
<circle cx="61.9" cy="256.5" r="1.1" fill="#0b6b0b"/>
<circle cx="61.9" cy="259.5" r="1.1" fill="#0b6b0b"/>
<circle cx="61.9" cy="263.5" r="1.1" fill="#1010f0"/>
<circle cx="61.9" cy="266.4" r="1.1" fill="#f01010"/>
<circle cx="61.9" cy="268.0" r="1.1" fill="#f01010"/>
<circle cx="61.9" cy="292.4" r="1.1" fill="#0b6b0b"/>
<rect x="29.4" y="209.4" width="44.9" height="119.6" stroke="#666666" stroke-width="0.85" fill="none"/>
<line x1="28.2" y1="322.8" x2="29.4" y2="322.8" stroke="#444" stroke-width="0.5"/>
<text x="27.799999999999997" y="324.7" font-size="5.5" text-anchor="end" font-weight="normal" fill="#222" stroke="#222" stroke-width="0.08" textLength="3.2" lengthAdjust="spacingAndGlyphs">0</text>
<line x1="28.2" y1="300.8" x2="29.4" y2="300.8" stroke="#444" stroke-width="0.5"/>
<text x="27.799999999999997" y="302.7" font-size="5.5" text-anchor="end" font-weight="normal" fill="#222" stroke="#222" stroke-width="0.08" textLength="9.6" lengthAdjust="spacingAndGlyphs">500</text>
<line x1="28.2" y1="278.8" x2="29.4" y2="278.8" stroke="#444" stroke-width="0.5"/>
<text x="27.799999999999997" y="280.7" font-size="5.5" text-anchor="end" font-weight="normal" fill="#222" stroke="#222" stroke-width="0.08" textLength="11.9" lengthAdjust="spacingAndGlyphs">1000</text>
<line x1="28.2" y1="256.9" x2="29.4" y2="256.9" stroke="#444" stroke-width="0.5"/>
<text x="27.799999999999997" y="258.79999999999995" font-size="5.5" text-anchor="end" font-weight="normal" fill="#222" stroke="#222" stroke-width="0.08" textLength="11.9" lengthAdjust="spacingAndGlyphs">1500</text>
<line x1="28.2" y1="234.9" x2="29.4" y2="234.9" stroke="#444" stroke-width="0.5"/>
<text x="27.799999999999997" y="236.8" font-size="5.5" text-anchor="end" font-weight="normal" fill="#222" stroke="#222" stroke-width="0.08" textLength="12.8" lengthAdjust="spacingAndGlyphs">2000</text>
<line x1="28.2" y1="212.9" x2="29.4" y2="212.9" stroke="#444" stroke-width="0.5"/>
<text x="27.799999999999997" y="214.8" font-size="5.5" text-anchor="end" font-weight="normal" fill="#222" stroke="#222" stroke-width="0.08" textLength="12.8" lengthAdjust="spacingAndGlyphs">2500</text>
<text x="29.9" y="327.7" font-size="5.6" text-anchor="start" font-weight="normal" fill="#222" stroke="#222" stroke-width="0.08">n</text>
<text x="41.9" y="327.7" font-size="5.9" text-anchor="middle" font-weight="normal" fill="#111" stroke="#111" stroke-width="0.1" textLength="6.4" lengthAdjust="spacingAndGlyphs">11</text>
<text x="61.9" y="327.7" font-size="5.9" text-anchor="middle" font-weight="normal" fill="#111" stroke="#111" stroke-width="0.1" textLength="6.4" lengthAdjust="spacingAndGlyphs">11</text>
<text x="41.9" y="334.7" font-size="5.2" text-anchor="middle" font-weight="normal" fill="#111" stroke="#111" stroke-width="0.1" textLength="8.4" lengthAdjust="spacingAndGlyphs">Bsl</text>
<text x="61.9" y="334.7" font-size="5.2" text-anchor="middle" font-weight="normal" fill="#111" stroke="#111" stroke-width="0.1" textLength="14.8" lengthAdjust="spacingAndGlyphs">Ontrt</text>
<text x="52.7" y="341.0" font-size="6.3" text-anchor="middle" font-weight="normal" fill="#111" stroke="#111" stroke-width="0.04" textLength="16.8" lengthAdjust="spacingAndGlyphs">Visits</text>
<text x="23.2" y="199.7" font-size="6.0" text-anchor="start" font-weight="normal" fill="#000" stroke="#000" stroke-width="0.03" textLength="49.3" lengthAdjust="spacingAndGlyphs">PD-L1 in CD14+</text>
<text x="23.2" y="206.1" font-size="6.0" text-anchor="start" font-weight="normal" fill="#000" stroke="#000" stroke-width="0.03" textLength="56.9" lengthAdjust="spacingAndGlyphs">All paired patients</text>
<text x="44" y="215.2" font-size="6.0" text-anchor="start" font-weight="normal" fill="#111" stroke="#111" stroke-width="0.04" textLength="13.9" lengthAdjust="spacingAndGlyphs">X1.5</text>
<text x="37.9" y="220.6" font-size="6.0" text-anchor="start" font-weight="normal" fill="#111" stroke="#111" stroke-width="0.04" textLength="18.8" lengthAdjust="spacingAndGlyphs">p&lt;0.01</text>
<line x1="104.8" y1="214.8" x2="125.0" y2="258.9" stroke="#c4c4c4" stroke-width="0.45"/>
<line x1="104.8" y1="261.3" x2="125.0" y2="240.8" stroke="#c4c4c4" stroke-width="0.45"/>
<line x1="104.8" y1="275.2" x2="125.0" y2="254.4" stroke="#c4c4c4" stroke-width="0.45"/>
<line x1="104.8" y1="280.0" x2="125.0" y2="258.9" stroke="#c4c4c4" stroke-width="0.45"/>
<line x1="105.2" y1="214.8" x2="105.2" y2="249.6" stroke="#9a9a9a" stroke-width="0.7"/>
<line x1="105.2" y1="276.4" x2="105.2" y2="280.0" stroke="#9a9a9a" stroke-width="0.7"/>
<rect x="97.60000000000001" y="249.6" width="15.2" height="26.799999999999983" stroke="#707070" stroke-width="0.55" fill="none"/>
<line x1="97.60000000000001" y1="268.3" x2="112.8" y2="268.3" stroke="#404040" stroke-width="0.9"/>
<line x1="125.0" y1="240.8" x2="125.0" y2="251.2" stroke="#9a9a9a" stroke-width="0.7"/>
<line x1="125.0" y1="260.3" x2="125.0" y2="263.7" stroke="#9a9a9a" stroke-width="0.7"/>
<rect x="117.6" y="251.2" width="14.8" height="9.100000000000023" stroke="#707070" stroke-width="0.55" fill="none"/>
<line x1="117.6" y1="256.3" x2="132.4" y2="256.3" stroke="#404040" stroke-width="0.9"/>
<line x1="93.0" y1="323.3" x2="136.8" y2="323.3" stroke="#222" stroke-width="0.7" stroke-dasharray="2 1.5"/>
<circle cx="104.8" cy="214.8" r="1.1" fill="#f01010"/>
<circle cx="104.8" cy="261.3" r="1.1" fill="#0b6b0b"/>
<circle cx="104.8" cy="275.2" r="1.1" fill="#0b6b0b"/>
<circle cx="104.8" cy="280.0" r="1.1" fill="#1010f0"/>
<circle cx="125.0" cy="240.8" r="1.1" fill="#0b6b0b"/>
<circle cx="125.0" cy="254.4" r="1.1" fill="#0b6b0b"/>
<circle cx="125.0" cy="258.9" r="1.1" fill="#1010f0"/>
<circle cx="125.0" cy="263.7" r="1.1" fill="#f01010"/>
<rect x="93.0" y="209.6" width="43.80000000000001" height="119.20000000000002" stroke="#666666" stroke-width="0.85" fill="none"/>
<line x1="91.8" y1="323.2" x2="93.0" y2="323.2" stroke="#444" stroke-width="0.5"/>
<text x="91.0" y="325.09999999999997" font-size="5.5" text-anchor="end" font-weight="normal" fill="#222" stroke="#222" stroke-width="0.08" textLength="3.3" lengthAdjust="spacingAndGlyphs">0</text>
<line x1="91.8" y1="300.0" x2="93.0" y2="300.0" stroke="#444" stroke-width="0.5"/>
<text x="91.0" y="301.9" font-size="5.5" text-anchor="end" font-weight="normal" fill="#222" stroke="#222" stroke-width="0.08" textLength="9.9" lengthAdjust="spacingAndGlyphs">500</text>
<line x1="91.8" y1="274.8" x2="93.0" y2="274.8" stroke="#444" stroke-width="0.5"/>
<text x="91.0" y="276.7" font-size="5.5" text-anchor="end" font-weight="normal" fill="#222" stroke="#222" stroke-width="0.08" textLength="12.28" lengthAdjust="spacingAndGlyphs">1000</text>
<line x1="91.8" y1="251.5" x2="93.0" y2="251.5" stroke="#444" stroke-width="0.5"/>
<text x="91.0" y="253.4" font-size="5.5" text-anchor="end" font-weight="normal" fill="#222" stroke="#222" stroke-width="0.08" textLength="12.28" lengthAdjust="spacingAndGlyphs">1500</text>
<line x1="91.8" y1="228.2" x2="93.0" y2="228.2" stroke="#444" stroke-width="0.5"/>
<text x="91.0" y="230.1" font-size="5.5" text-anchor="end" font-weight="normal" fill="#222" stroke="#222" stroke-width="0.08" textLength="13.2" lengthAdjust="spacingAndGlyphs">2000</text>
<text x="94.2" y="327.7" font-size="5.6" text-anchor="start" font-weight="normal" fill="#222" stroke="#222" stroke-width="0.08">n</text>
<text x="105.1" y="327.7" font-size="5.9" text-anchor="middle" font-weight="normal" fill="#111" stroke="#111" stroke-width="0.1" textLength="3.2" lengthAdjust="spacingAndGlyphs">4</text>
<text x="125.5" y="327.7" font-size="5.9" text-anchor="middle" font-weight="normal" fill="#111" stroke="#111" stroke-width="0.1" textLength="3.2" lengthAdjust="spacingAndGlyphs">4</text>
<text x="103.89999999999999" y="334.8" font-size="5.2" text-anchor="middle" font-weight="normal" fill="#111" stroke="#111" stroke-width="0.1" textLength="8.4" lengthAdjust="spacingAndGlyphs">Bsl</text>
<text x="125.8" y="334.8" font-size="5.2" text-anchor="middle" font-weight="normal" fill="#111" stroke="#111" stroke-width="0.1" textLength="14.8" lengthAdjust="spacingAndGlyphs">Ontrt</text>
<text x="115.7" y="341.0" font-size="6.3" text-anchor="middle" font-weight="normal" fill="#111" stroke="#111" stroke-width="0.04" textLength="16.8" lengthAdjust="spacingAndGlyphs">Visits</text>
<text x="88.5" y="199.8" font-size="6.0" text-anchor="start" font-weight="normal" fill="#000" stroke="#000" stroke-width="0.03" textLength="49.8" lengthAdjust="spacingAndGlyphs">PD-L1 in CD14+</text>
<text x="88.5" y="207.4" font-size="6.0" text-anchor="start" font-weight="normal" fill="#000" stroke="#000" stroke-width="0.03" textLength="30.7" lengthAdjust="spacingAndGlyphs">qw paired</text>
<text x="106.8" y="214.8" font-size="6.0" text-anchor="start" font-weight="normal" fill="#111" stroke="#111" stroke-width="0.04" textLength="14" lengthAdjust="spacingAndGlyphs">X1.4</text>
<text x="113.5" y="219.6" font-size="6.0" text-anchor="start" font-weight="normal" fill="#111" stroke="#111" stroke-width="0.04" textLength="7" lengthAdjust="spacingAndGlyphs">ns</text>
<line x1="168.2" y1="277.9" x2="188.2" y2="214.8" stroke="#c4c4c4" stroke-width="0.45"/>
<line x1="168.2" y1="278.8" x2="188.2" y2="219.7" stroke="#c4c4c4" stroke-width="0.45"/>
<line x1="168.2" y1="290.0" x2="188.2" y2="223.0" stroke="#c4c4c4" stroke-width="0.45"/>
<line x1="168.2" y1="290.0" x2="188.2" y2="242.4" stroke="#c4c4c4" stroke-width="0.45"/>
<line x1="168.2" y1="293.0" x2="188.2" y2="256.8" stroke="#c4c4c4" stroke-width="0.45"/>
<line x1="168.2" y1="290.0" x2="188.2" y2="265.6" stroke="#c4c4c4" stroke-width="0.45"/>
<line x1="168.2" y1="292.0" x2="188.2" y2="292.7" stroke="#c4c4c4" stroke-width="0.45"/>
<line x1="168.2" y1="278.0" x2="168.2" y2="284.4" stroke="#9a9a9a" stroke-width="0.7"/>
<line x1="168.2" y1="292.4" x2="168.2" y2="296.0" stroke="#9a9a9a" stroke-width="0.7"/>
<rect x="160.6" y="284.4" width="15.2" height="8.0" stroke="#707070" stroke-width="0.55" fill="none"/>
<line x1="160.6" y1="290.3" x2="175.79999999999998" y2="290.3" stroke="#404040" stroke-width="0.9"/>
<line x1="188.2" y1="214.8" x2="188.2" y2="221.5" stroke="#9a9a9a" stroke-width="0.7"/>
<line x1="188.2" y1="261.1" x2="188.2" y2="292.7" stroke="#9a9a9a" stroke-width="0.7"/>
<rect x="180.6" y="221.5" width="15.2" height="39.60000000000002" stroke="#707070" stroke-width="0.55" fill="none"/>
<line x1="180.6" y1="242.2" x2="195.79999999999998" y2="242.2" stroke="#404040" stroke-width="0.9"/>
<line x1="156.1" y1="324.2" x2="200.3" y2="324.2" stroke="#222" stroke-width="0.7" stroke-dasharray="2 1.5"/>
<circle cx="168.2" cy="277.9" r="1.1" fill="#0b6b0b"/>
<circle cx="168.2" cy="278.8" r="1.1" fill="#f01010"/>
<circle cx="168.2" cy="290.0" r="1.1" fill="#0b6b0b"/>
<circle cx="168.2" cy="293.0" r="1.1" fill="#0b6b0b"/>
<circle cx="168.2" cy="296.0" r="1.1" fill="#0b6b0b"/>
<circle cx="188.2" cy="214.8" r="1.1" fill="#0b6b0b"/>
<circle cx="188.2" cy="219.7" r="1.1" fill="#0b6b0b"/>
<circle cx="188.2" cy="223.0" r="1.1" fill="#0b6b0b"/>
<circle cx="188.2" cy="242.4" r="1.1" fill="#0b6b0b"/>
<circle cx="188.2" cy="256.8" r="1.1" fill="#0b6b0b"/>
<circle cx="188.2" cy="265.6" r="1.1" fill="#f01010"/>
<circle cx="188.2" cy="292.7" r="1.1" fill="#0b6b0b"/>
<rect x="156.1" y="209.5" width="44.20000000000002" height="119.89999999999998" stroke="#666666" stroke-width="0.85" fill="none"/>
<line x1="154.9" y1="324.0" x2="156.1" y2="324.0" stroke="#444" stroke-width="0.5"/>
<text x="154.1" y="325.9" font-size="5.5" text-anchor="end" font-weight="normal" fill="#222" stroke="#222" stroke-width="0.08" textLength="3.3" lengthAdjust="spacingAndGlyphs">0</text>
<line x1="154.9" y1="301.9" x2="156.1" y2="301.9" stroke="#444" stroke-width="0.5"/>
<text x="154.1" y="303.79999999999995" font-size="5.5" text-anchor="end" font-weight="normal" fill="#222" stroke="#222" stroke-width="0.08" textLength="9.9" lengthAdjust="spacingAndGlyphs">500</text>
<line x1="154.9" y1="279.9" x2="156.1" y2="279.9" stroke="#444" stroke-width="0.5"/>
<text x="154.1" y="281.79999999999995" font-size="5.5" text-anchor="end" font-weight="normal" fill="#222" stroke="#222" stroke-width="0.08" textLength="12.28" lengthAdjust="spacingAndGlyphs">1000</text>
<line x1="154.9" y1="258.0" x2="156.1" y2="258.0" stroke="#444" stroke-width="0.5"/>
<text x="154.1" y="259.9" font-size="5.5" text-anchor="end" font-weight="normal" fill="#222" stroke="#222" stroke-width="0.08" textLength="12.28" lengthAdjust="spacingAndGlyphs">1500</text>
<line x1="154.9" y1="236.7" x2="156.1" y2="236.7" stroke="#444" stroke-width="0.5"/>
<text x="154.1" y="238.6" font-size="5.5" text-anchor="end" font-weight="normal" fill="#222" stroke="#222" stroke-width="0.08" textLength="13.2" lengthAdjust="spacingAndGlyphs">2000</text>
<line x1="154.9" y1="214.8" x2="156.1" y2="214.8" stroke="#444" stroke-width="0.5"/>
<text x="154.1" y="216.70000000000002" font-size="5.5" text-anchor="end" font-weight="normal" fill="#222" stroke="#222" stroke-width="0.08" textLength="13.2" lengthAdjust="spacingAndGlyphs">2500</text>
<text x="156.5" y="328.6" font-size="5.6" text-anchor="start" font-weight="normal" fill="#222" stroke="#222" stroke-width="0.08">n</text>
<text x="166.4" y="328.6" font-size="5.9" text-anchor="middle" font-weight="normal" fill="#111" stroke="#111" stroke-width="0.1" textLength="3.2" lengthAdjust="spacingAndGlyphs">7</text>
<text x="188.4" y="328.6" font-size="5.9" text-anchor="middle" font-weight="normal" fill="#111" stroke="#111" stroke-width="0.1" textLength="3.2" lengthAdjust="spacingAndGlyphs">7</text>
<text x="167.5" y="334.7" font-size="5.2" text-anchor="middle" font-weight="normal" fill="#111" stroke="#111" stroke-width="0.1" textLength="8.4" lengthAdjust="spacingAndGlyphs">Bsl</text>
<text x="189.0" y="334.7" font-size="5.2" text-anchor="middle" font-weight="normal" fill="#111" stroke="#111" stroke-width="0.1" textLength="14.8" lengthAdjust="spacingAndGlyphs">Ontrt</text>
<text x="178.9" y="340.9" font-size="6.3" text-anchor="middle" font-weight="normal" fill="#111" stroke="#111" stroke-width="0.04" textLength="16.8" lengthAdjust="spacingAndGlyphs">Visits</text>
<text x="152.9" y="199.8" font-size="6.0" text-anchor="start" font-weight="normal" fill="#000" stroke="#000" stroke-width="0.03" textLength="49.6" lengthAdjust="spacingAndGlyphs">PD-L1 in CD14+</text>
<text x="152.9" y="207.4" font-size="6.0" text-anchor="start" font-weight="normal" fill="#000" stroke="#000" stroke-width="0.03" textLength="34.5" lengthAdjust="spacingAndGlyphs">q2w paired</text>
<text x="171.2" y="215.3" font-size="6.0" text-anchor="start" font-weight="normal" fill="#111" stroke="#111" stroke-width="0.04" textLength="14.3" lengthAdjust="spacingAndGlyphs">X2.2</text>
<text x="160.8" y="220.7" font-size="6.0" text-anchor="start" font-weight="normal" fill="#111" stroke="#111" stroke-width="0.04" textLength="20" lengthAdjust="spacingAndGlyphs">p&lt;0.05</text>
<line x1="271.1" y1="222.5" x2="291.9" y2="258.0" stroke="#c4c4c4" stroke-width="0.45"/>
<line x1="271.1" y1="264.7" x2="291.9" y2="214.3" stroke="#c4c4c4" stroke-width="0.45"/>
<line x1="271.1" y1="267.6" x2="291.9" y2="219.1" stroke="#c4c4c4" stroke-width="0.45"/>
<line x1="271.1" y1="276.0" x2="291.9" y2="222.5" stroke="#c4c4c4" stroke-width="0.45"/>
<line x1="271.1" y1="278.4" x2="291.9" y2="238.8" stroke="#c4c4c4" stroke-width="0.45"/>
<line x1="271.1" y1="276.0" x2="291.9" y2="244.8" stroke="#c4c4c4" stroke-width="0.45"/>
<line x1="271.1" y1="282.5" x2="291.9" y2="249.6" stroke="#c4c4c4" stroke-width="0.45"/>
<line x1="271.1" y1="289.2" x2="291.9" y2="256.3" stroke="#c4c4c4" stroke-width="0.45"/>
<line x1="271.1" y1="278.4" x2="291.9" y2="262.3" stroke="#c4c4c4" stroke-width="0.45"/>
<line x1="271.1" y1="289.2" x2="291.9" y2="264.7" stroke="#c4c4c4" stroke-width="0.45"/>
<line x1="271.1" y1="282.5" x2="291.9" y2="273.6" stroke="#c4c4c4" stroke-width="0.45"/>
<line x1="271.1" y1="292.8" x2="291.9" y2="291.6" stroke="#c4c4c4" stroke-width="0.45"/>
<line x1="271.6" y1="265.0" x2="271.6" y2="267.1" stroke="#9a9a9a" stroke-width="0.7"/>
<line x1="271.6" y1="289.2" x2="271.6" y2="296.0" stroke="#9a9a9a" stroke-width="0.7"/>
<rect x="263.6" y="267.1" width="16" height="22.099999999999966" stroke="#707070" stroke-width="0.55" fill="none"/>
<line x1="263.6" y1="278.3" x2="279.6" y2="278.3" stroke="#404040" stroke-width="0.9"/>
<line x1="292.0" y1="214.9" x2="292.0" y2="244.0" stroke="#9a9a9a" stroke-width="0.7"/>
<line x1="292.0" y1="276.4" x2="292.0" y2="295.8" stroke="#9a9a9a" stroke-width="0.7"/>
<rect x="284.25" y="244.0" width="15.5" height="32.39999999999998" stroke="#707070" stroke-width="0.55" fill="none"/>
<line x1="284.25" y1="259.3" x2="299.75" y2="259.3" stroke="#404040" stroke-width="0.9"/>
<line x1="258.9" y1="322.8" x2="304.5" y2="322.8" stroke="#222" stroke-width="0.7" stroke-dasharray="2 1.5"/>
<circle cx="271.1" cy="222.5" r="1.1" fill="#f01010"/>
<circle cx="271.1" cy="264.7" r="1.1" fill="#0b6b0b"/>
<circle cx="271.1" cy="267.6" r="1.1" fill="#f01010"/>
<circle cx="271.1" cy="276.0" r="1.1" fill="#0b6b0b"/>
<circle cx="271.1" cy="278.4" r="1.1" fill="#0b6b0b"/>
<circle cx="271.1" cy="282.5" r="1.1" fill="#1010f0"/>
<circle cx="271.1" cy="289.2" r="1.1" fill="#0b6b0b"/>
<circle cx="271.1" cy="292.8" r="1.1" fill="#0b6b0b"/>
<circle cx="271.1" cy="295.2" r="1.1" fill="#0b6b0b"/>
<circle cx="291.9" cy="214.3" r="1.1" fill="#0b6b0b"/>
<circle cx="291.9" cy="219.1" r="1.1" fill="#0b6b0b"/>
<circle cx="291.9" cy="222.5" r="1.1" fill="#0b6b0b"/>
<circle cx="291.9" cy="238.8" r="1.1" fill="#f01010"/>
<circle cx="291.9" cy="244.8" r="1.1" fill="#0b6b0b"/>
<circle cx="291.9" cy="249.6" r="1.1" fill="#0b6b0b"/>
<circle cx="291.9" cy="252.7" r="1.1" fill="#f01010"/>
<circle cx="291.9" cy="256.3" r="1.1" fill="#0b6b0b"/>
<circle cx="291.9" cy="262.3" r="1.1" fill="#1010f0"/>
<circle cx="291.9" cy="264.7" r="1.1" fill="#f01010"/>
<circle cx="291.9" cy="267.6" r="1.1" fill="#f01010"/>
<circle cx="291.9" cy="273.6" r="1.1" fill="#0b6b0b"/>
<circle cx="291.9" cy="279.1" r="1.1" fill="#0b6b0b"/>
<circle cx="291.9" cy="283.2" r="1.1" fill="#0b6b0b"/>
<circle cx="291.9" cy="286.3" r="1.1" fill="#0b6b0b"/>
<circle cx="291.9" cy="288.5" r="1.1" fill="#f01010"/>
<circle cx="291.9" cy="291.6" r="1.1" fill="#0b6b0b"/>
<circle cx="291.9" cy="295.2" r="1.1" fill="#0b6b0b"/>
<rect x="258.9" y="209.6" width="45.60000000000002" height="118.4" stroke="#666666" stroke-width="0.85" fill="none"/>
<line x1="257.7" y1="322.6" x2="258.9" y2="322.6" stroke="#444" stroke-width="0.5"/>
<text x="256.9" y="324.5" font-size="5.5" text-anchor="end" font-weight="normal" fill="#222" stroke="#222" stroke-width="0.08" textLength="3.45" lengthAdjust="spacingAndGlyphs">0</text>
<line x1="257.7" y1="301.1" x2="258.9" y2="301.1" stroke="#444" stroke-width="0.5"/>
<text x="256.9" y="303.0" font-size="5.5" text-anchor="end" font-weight="normal" fill="#222" stroke="#222" stroke-width="0.08" textLength="10.35" lengthAdjust="spacingAndGlyphs">500</text>
<line x1="257.7" y1="279.2" x2="258.9" y2="279.2" stroke="#444" stroke-width="0.5"/>
<text x="256.9" y="281.09999999999997" font-size="5.5" text-anchor="end" font-weight="normal" fill="#222" stroke="#222" stroke-width="0.08" textLength="12.83" lengthAdjust="spacingAndGlyphs">1000</text>
<line x1="257.7" y1="257.2" x2="258.9" y2="257.2" stroke="#444" stroke-width="0.5"/>
<text x="256.9" y="259.09999999999997" font-size="5.5" text-anchor="end" font-weight="normal" fill="#222" stroke="#222" stroke-width="0.08" textLength="12.83" lengthAdjust="spacingAndGlyphs">1500</text>
<line x1="257.7" y1="235.6" x2="258.9" y2="235.6" stroke="#444" stroke-width="0.5"/>
<text x="256.9" y="237.5" font-size="5.5" text-anchor="end" font-weight="normal" fill="#222" stroke="#222" stroke-width="0.08" textLength="13.8" lengthAdjust="spacingAndGlyphs">2000</text>
<line x1="257.7" y1="213.0" x2="258.9" y2="213.0" stroke="#444" stroke-width="0.5"/>
<text x="256.9" y="214.9" font-size="5.5" text-anchor="end" font-weight="normal" fill="#222" stroke="#222" stroke-width="0.08" textLength="13.8" lengthAdjust="spacingAndGlyphs">2500</text>
<text x="259.4" y="327.9" font-size="5.6" text-anchor="start" font-weight="normal" fill="#222" stroke="#222" stroke-width="0.08">n</text>
<text x="270.6" y="327.9" font-size="5.9" text-anchor="middle" font-weight="normal" fill="#111" stroke="#111" stroke-width="0.1" textLength="6.4" lengthAdjust="spacingAndGlyphs">21</text>
<text x="292.9" y="327.9" font-size="5.9" text-anchor="middle" font-weight="normal" fill="#111" stroke="#111" stroke-width="0.1" textLength="6.4" lengthAdjust="spacingAndGlyphs">19</text>
<text x="270.3" y="334.4" font-size="5.2" text-anchor="middle" font-weight="normal" fill="#111" stroke="#111" stroke-width="0.1" textLength="8.4" lengthAdjust="spacingAndGlyphs">Bsl</text>
<text x="292.59999999999997" y="334.4" font-size="5.2" text-anchor="middle" font-weight="normal" fill="#111" stroke="#111" stroke-width="0.1" textLength="14.8" lengthAdjust="spacingAndGlyphs">Ontrt</text>
<text x="281.9" y="341.1" font-size="6.3" text-anchor="middle" font-weight="normal" fill="#111" stroke="#111" stroke-width="0.04" textLength="16.8" lengthAdjust="spacingAndGlyphs">Visits</text>
<text x="261.0" y="198.9" font-size="6.0" text-anchor="start" font-weight="normal" fill="#000" stroke="#000" stroke-width="0.03" textLength="46.5" lengthAdjust="spacingAndGlyphs">PD-L1 in CD14+</text>
<text x="261.0" y="206.1" font-size="6.0" text-anchor="start" font-weight="normal" fill="#000" stroke="#000" stroke-width="0.03" textLength="33.0" lengthAdjust="spacingAndGlyphs">All patients</text>
<line x1="337.9" y1="215.3" x2="360.0" y2="255.0" stroke="#c4c4c4" stroke-width="0.45"/>
<line x1="337.9" y1="261.0" x2="360.0" y2="241.1" stroke="#c4c4c4" stroke-width="0.45"/>
<line x1="337.9" y1="273.0" x2="360.0" y2="255.0" stroke="#c4c4c4" stroke-width="0.45"/>
<line x1="337.9" y1="277.0" x2="360.0" y2="259.0" stroke="#c4c4c4" stroke-width="0.45"/>
<line x1="338.0" y1="261.0" x2="338.0" y2="261.5" stroke="#9a9a9a" stroke-width="0.7"/>
<line x1="338.0" y1="276.7" x2="338.0" y2="288.0" stroke="#9a9a9a" stroke-width="0.7"/>
<rect x="329.6" y="261.5" width="16.8" height="15.199999999999989" stroke="#707070" stroke-width="0.55" fill="none"/>
<line x1="329.6" y1="273.5" x2="346.4" y2="273.5" stroke="#404040" stroke-width="0.9"/>
<line x1="360.0" y1="233.5" x2="360.0" y2="247.9" stroke="#9a9a9a" stroke-width="0.7"/>
<line x1="360.0" y1="261.5" x2="360.0" y2="281.0" stroke="#9a9a9a" stroke-width="0.7"/>
<rect x="351.25" y="247.9" width="17.5" height="13.599999999999994" stroke="#707070" stroke-width="0.55" fill="none"/>
<line x1="351.25" y1="255.1" x2="368.75" y2="255.1" stroke="#404040" stroke-width="0.9"/>
<line x1="324.4" y1="323.6" x2="373.5" y2="323.6" stroke="#222" stroke-width="0.7" stroke-dasharray="2 1.5"/>
<circle cx="337.9" cy="215.3" r="1.1" fill="#f01010"/>
<circle cx="337.9" cy="261.0" r="1.1" fill="#0b6b0b"/>
<circle cx="337.9" cy="273.0" r="1.1" fill="#0b6b0b"/>
<circle cx="337.9" cy="275.0" r="1.1" fill="#0b6b0b"/>
<circle cx="337.9" cy="277.0" r="1.1" fill="#0b6b0b"/>
<circle cx="337.9" cy="280.0" r="1.1" fill="#1010f0"/>
<circle cx="337.9" cy="288.0" r="1.1" fill="#0b6b0b"/>
<circle cx="360.0" cy="233.5" r="1.1" fill="#f01010"/>
<circle cx="360.0" cy="241.1" r="1.1" fill="#0b6b0b"/>
<circle cx="360.0" cy="255.0" r="1.1" fill="#0b6b0b"/>
<circle cx="360.0" cy="259.0" r="1.1" fill="#1010f0"/>
<circle cx="360.0" cy="263.8" r="1.1" fill="#f01010"/>
<circle cx="360.0" cy="281.0" r="1.1" fill="#0b6b0b"/>
<rect x="324.4" y="210.0" width="49.10000000000002" height="119.39999999999998" stroke="#666666" stroke-width="0.85" fill="none"/>
<line x1="323.2" y1="323.6" x2="324.4" y2="323.6" stroke="#444" stroke-width="0.5"/>
<text x="322.4" y="325.5" font-size="5.5" text-anchor="end" font-weight="normal" fill="#222" stroke="#222" stroke-width="0.08" textLength="3.3" lengthAdjust="spacingAndGlyphs">0</text>
<line x1="323.2" y1="300.4" x2="324.4" y2="300.4" stroke="#444" stroke-width="0.5"/>
<text x="322.4" y="302.29999999999995" font-size="5.5" text-anchor="end" font-weight="normal" fill="#222" stroke="#222" stroke-width="0.08" textLength="9.9" lengthAdjust="spacingAndGlyphs">500</text>
<line x1="323.2" y1="277.0" x2="324.4" y2="277.0" stroke="#444" stroke-width="0.5"/>
<text x="322.4" y="278.9" font-size="5.5" text-anchor="end" font-weight="normal" fill="#222" stroke="#222" stroke-width="0.08" textLength="12.28" lengthAdjust="spacingAndGlyphs">1000</text>
<line x1="323.2" y1="253.8" x2="324.4" y2="253.8" stroke="#444" stroke-width="0.5"/>
<text x="322.4" y="255.70000000000002" font-size="5.5" text-anchor="end" font-weight="normal" fill="#222" stroke="#222" stroke-width="0.08" textLength="12.28" lengthAdjust="spacingAndGlyphs">1500</text>
<line x1="323.2" y1="229.8" x2="324.4" y2="229.8" stroke="#444" stroke-width="0.5"/>
<text x="322.4" y="231.70000000000002" font-size="5.5" text-anchor="end" font-weight="normal" fill="#222" stroke="#222" stroke-width="0.08" textLength="13.2" lengthAdjust="spacingAndGlyphs">2000</text>
<text x="326.4" y="327.9" font-size="5.6" text-anchor="start" font-weight="normal" fill="#222" stroke="#222" stroke-width="0.08">n</text>
<text x="338.4" y="327.9" font-size="5.9" text-anchor="middle" font-weight="normal" fill="#111" stroke="#111" stroke-width="0.1" textLength="3.2" lengthAdjust="spacingAndGlyphs">6</text>
<text x="360.2" y="327.9" font-size="5.9" text-anchor="middle" font-weight="normal" fill="#111" stroke="#111" stroke-width="0.1" textLength="3.2" lengthAdjust="spacingAndGlyphs">7</text>
<text x="337.9" y="334.6" font-size="5.2" text-anchor="middle" font-weight="normal" fill="#111" stroke="#111" stroke-width="0.1" textLength="8.4" lengthAdjust="spacingAndGlyphs">Bsl</text>
<text x="359.6" y="334.6" font-size="5.2" text-anchor="middle" font-weight="normal" fill="#111" stroke="#111" stroke-width="0.1" textLength="14.8" lengthAdjust="spacingAndGlyphs">Ontrt</text>
<text x="349.4" y="341.2" font-size="6.3" text-anchor="middle" font-weight="normal" fill="#111" stroke="#111" stroke-width="0.04" textLength="16.8" lengthAdjust="spacingAndGlyphs">Visits</text>
<text x="326.7" y="199.8" font-size="6.0" text-anchor="start" font-weight="normal" fill="#000" stroke="#000" stroke-width="0.03" textLength="46.6" lengthAdjust="spacingAndGlyphs">PD-L1 in CD14+</text>
<text x="326.7" y="207.2" font-size="6.0" text-anchor="start" font-weight="normal" fill="#000" stroke="#000" stroke-width="0.03" textLength="43.4" lengthAdjust="spacingAndGlyphs">qw all patients</text>
<line x1="405.5" y1="277.7" x2="427.1" y2="214.8" stroke="#c4c4c4" stroke-width="0.45"/>
<line x1="405.5" y1="282.0" x2="427.1" y2="219.6" stroke="#c4c4c4" stroke-width="0.45"/>
<line x1="405.5" y1="278.4" x2="427.1" y2="223.2" stroke="#c4c4c4" stroke-width="0.45"/>
<line x1="405.5" y1="286.3" x2="427.1" y2="241.9" stroke="#c4c4c4" stroke-width="0.45"/>
<line x1="405.5" y1="282.0" x2="427.1" y2="252.7" stroke="#c4c4c4" stroke-width="0.45"/>
<line x1="405.5" y1="289.2" x2="427.1" y2="256.3" stroke="#c4c4c4" stroke-width="0.45"/>
<line x1="405.5" y1="286.3" x2="427.1" y2="265.2" stroke="#c4c4c4" stroke-width="0.45"/>
<line x1="405.5" y1="292.8" x2="427.1" y2="292.3" stroke="#c4c4c4" stroke-width="0.45"/>
<line x1="405.5" y1="264.7" x2="405.5" y2="267.6" stroke="#9a9a9a" stroke-width="0.7"/>
<line x1="405.5" y1="289.9" x2="405.5" y2="295.9" stroke="#9a9a9a" stroke-width="0.7"/>
<rect x="397.7" y="267.6" width="15.6" height="22.299999999999955" stroke="#707070" stroke-width="0.55" fill="none"/>
<line x1="397.7" y1="282.7" x2="413.3" y2="282.7" stroke="#404040" stroke-width="0.9"/>
<line x1="427.2" y1="214.8" x2="427.2" y2="237.6" stroke="#9a9a9a" stroke-width="0.7"/>
<line x1="427.2" y1="281.5" x2="427.2" y2="295.9" stroke="#9a9a9a" stroke-width="0.7"/>
<rect x="418.8" y="237.6" width="16.8" height="43.900000000000006" stroke="#707070" stroke-width="0.55" fill="none"/>
<line x1="418.8" y1="261.1" x2="435.59999999999997" y2="261.1" stroke="#404040" stroke-width="0.9"/>
<line x1="393.5" y1="322.9" x2="439.6" y2="322.9" stroke="#222" stroke-width="0.7" stroke-dasharray="2 1.5"/>
<circle cx="405.5" cy="264.7" r="1.1" fill="#0b6b0b"/>
<circle cx="405.5" cy="267.6" r="1.1" fill="#f01010"/>
<circle cx="405.5" cy="277.7" r="1.1" fill="#0b6b0b"/>
<circle cx="405.5" cy="278.4" r="1.1" fill="#f01010"/>
<circle cx="405.5" cy="282.0" r="1.1" fill="#f01010"/>
<circle cx="405.5" cy="286.3" r="1.1" fill="#0b6b0b"/>
<circle cx="405.5" cy="289.2" r="1.1" fill="#0b6b0b"/>
<circle cx="405.5" cy="292.8" r="1.1" fill="#0b6b0b"/>
<circle cx="405.5" cy="295.9" r="1.1" fill="#0b6b0b"/>
<circle cx="427.1" cy="214.8" r="1.1" fill="#0b6b0b"/>
<circle cx="427.1" cy="219.6" r="1.1" fill="#0b6b0b"/>
<circle cx="427.1" cy="223.2" r="1.1" fill="#0b6b0b"/>
<circle cx="427.1" cy="241.9" r="1.1" fill="#0b6b0b"/>
<circle cx="427.1" cy="252.7" r="1.1" fill="#f01010"/>
<circle cx="427.1" cy="256.3" r="1.1" fill="#0b6b0b"/>
<circle cx="427.1" cy="265.2" r="1.1" fill="#f01010"/>
<circle cx="427.1" cy="273.6" r="1.1" fill="#0b6b0b"/>
<circle cx="427.1" cy="279.6" r="1.1" fill="#0b6b0b"/>
<circle cx="427.1" cy="288.7" r="1.1" fill="#f01010"/>
<circle cx="427.1" cy="292.3" r="1.1" fill="#0b6b0b"/>
<circle cx="427.1" cy="295.9" r="1.1" fill="#0b6b0b"/>
<rect x="393.5" y="210.0" width="46.10000000000002" height="118.5" stroke="#666666" stroke-width="0.85" fill="none"/>
<line x1="392.3" y1="322.9" x2="393.5" y2="322.9" stroke="#444" stroke-width="0.5"/>
<text x="391.5" y="324.79999999999995" font-size="5.5" text-anchor="end" font-weight="normal" fill="#222" stroke="#222" stroke-width="0.08" textLength="3.3" lengthAdjust="spacingAndGlyphs">0</text>
<line x1="392.3" y1="301.0" x2="393.5" y2="301.0" stroke="#444" stroke-width="0.5"/>
<text x="391.5" y="302.9" font-size="5.5" text-anchor="end" font-weight="normal" fill="#222" stroke="#222" stroke-width="0.08" textLength="9.9" lengthAdjust="spacingAndGlyphs">500</text>
<line x1="392.3" y1="279.2" x2="393.5" y2="279.2" stroke="#444" stroke-width="0.5"/>
<text x="391.5" y="281.09999999999997" font-size="5.5" text-anchor="end" font-weight="normal" fill="#222" stroke="#222" stroke-width="0.08" textLength="12.28" lengthAdjust="spacingAndGlyphs">1000</text>
<line x1="392.3" y1="258.4" x2="393.5" y2="258.4" stroke="#444" stroke-width="0.5"/>
<text x="391.5" y="260.29999999999995" font-size="5.5" text-anchor="end" font-weight="normal" fill="#222" stroke="#222" stroke-width="0.08" textLength="12.28" lengthAdjust="spacingAndGlyphs">1500</text>
<line x1="392.3" y1="237.1" x2="393.5" y2="237.1" stroke="#444" stroke-width="0.5"/>
<text x="391.5" y="239.0" font-size="5.5" text-anchor="end" font-weight="normal" fill="#222" stroke="#222" stroke-width="0.08" textLength="13.2" lengthAdjust="spacingAndGlyphs">2000</text>
<line x1="392.3" y1="214.8" x2="393.5" y2="214.8" stroke="#444" stroke-width="0.5"/>
<text x="391.5" y="216.70000000000002" font-size="5.5" text-anchor="end" font-weight="normal" fill="#222" stroke="#222" stroke-width="0.08" textLength="13.2" lengthAdjust="spacingAndGlyphs">2500</text>
<text x="395.1" y="327.6" font-size="5.6" text-anchor="start" font-weight="normal" fill="#222" stroke="#222" stroke-width="0.08">n</text>
<text x="407.1" y="327.6" font-size="5.9" text-anchor="middle" font-weight="normal" fill="#111" stroke="#111" stroke-width="0.1" textLength="6.4" lengthAdjust="spacingAndGlyphs">13</text>
<text x="428.9" y="327.6" font-size="5.9" text-anchor="middle" font-weight="normal" fill="#111" stroke="#111" stroke-width="0.1" textLength="6.4" lengthAdjust="spacingAndGlyphs">12</text>
<text x="404.8" y="334.1" font-size="5.2" text-anchor="middle" font-weight="normal" fill="#111" stroke="#111" stroke-width="0.1" textLength="8.4" lengthAdjust="spacingAndGlyphs">Bsl</text>
<text x="426.20000000000005" y="334.1" font-size="5.2" text-anchor="middle" font-weight="normal" fill="#111" stroke="#111" stroke-width="0.1" textLength="14.8" lengthAdjust="spacingAndGlyphs">Ontrt</text>
<text x="415.3" y="341.1" font-size="6.3" text-anchor="middle" font-weight="normal" fill="#111" stroke="#111" stroke-width="0.04" textLength="16.8" lengthAdjust="spacingAndGlyphs">Visits</text>
<text x="391.5" y="199.2" font-size="6.0" text-anchor="start" font-weight="normal" fill="#000" stroke="#000" stroke-width="0.03" textLength="46.0" lengthAdjust="spacingAndGlyphs">PD-L1 in CD14+</text>
<text x="391.5" y="206.8" font-size="6.0" text-anchor="start" font-weight="normal" fill="#000" stroke="#000" stroke-width="0.03" textLength="46.6" lengthAdjust="spacingAndGlyphs">q2w all Patients</text>
<text x="10.4" y="73" font-size="6.2" text-anchor="middle" font-weight="normal" fill="#1a1a1a" stroke="#1a1a1a" stroke-width="0.08" textLength="70" lengthAdjust="spacingAndGlyphs" transform="rotate(-90 10.4 73)">Relative cell counts [%]</text>
<text x="244.2" y="75.5" font-size="6.2" text-anchor="middle" font-weight="normal" fill="#1a1a1a" stroke="#1a1a1a" stroke-width="0.08" textLength="70" lengthAdjust="spacingAndGlyphs" transform="rotate(-90 244.2 75.5)">Relative cell counts [%]</text>
<text x="11.3" y="265.2" font-size="5.6" text-anchor="middle" font-weight="normal" fill="#1a1a1a" stroke="#1a1a1a" stroke-width="0.08" textLength="117" lengthAdjust="spacingAndGlyphs" transform="rotate(-90 11.3 265.2)">Molecules of equivalent soluble fluorochrome</text>
<text x="238.3" y="268.7" font-size="5.6" text-anchor="middle" font-weight="normal" fill="#1a1a1a" stroke="#1a1a1a" stroke-width="0.08" textLength="121.8" lengthAdjust="spacingAndGlyphs" transform="rotate(-90 238.3 268.7)">Molecules of Equivalent Soluble fluorochrome</text>
<path d="M45.6 158.5 V165.3 H178.0 V158.5" stroke="#333" stroke-width="0.8" fill="none"/>
<text x="86.7" y="174.2" font-size="6.7" text-anchor="start" font-weight="normal" fill="#111" stroke="#111" stroke-width="0.08" textLength="50.2" lengthAdjust="spacingAndGlyphs">Paired patients</text>
<path d="M280.8 158.5 V165.3 H413.7 V158.5" stroke="#333" stroke-width="0.8" fill="none"/>
<text x="325.8" y="174.2" font-size="6.7" text-anchor="start" font-weight="normal" fill="#111" stroke="#111" stroke-width="0.08" textLength="41.3" lengthAdjust="spacingAndGlyphs">All patients</text>
<path d="M52.7 343.4 V350.0 H178.6 V343.4" stroke="#333" stroke-width="0.8" fill="none"/>
<text x="91.0" y="357.9" font-size="6.7" text-anchor="start" font-weight="normal" fill="#111" stroke="#111" stroke-width="0.08" textLength="49.7" lengthAdjust="spacingAndGlyphs">Paired patients</text>
<path d="M282.4 343.0 V350.2 H415.0 V343.0" stroke="#333" stroke-width="0.8" fill="none"/>
<text x="325.3" y="357.9" font-size="6.7" text-anchor="start" font-weight="normal" fill="#111" stroke="#111" stroke-width="0.08" textLength="37.4" lengthAdjust="spacingAndGlyphs">All patients</text>
<text x="-0.3" y="5.0" font-size="10" text-anchor="start" font-weight="bold" fill="#000" stroke="#000" stroke-width="0">a</text>
<text x="-0.3" y="186.3" font-size="9.5" text-anchor="start" font-weight="bold" fill="#000" stroke="#000" stroke-width="0">b</text>
<text x="0" y="373.8" font-size="7.4" text-anchor="start" font-weight="normal" fill="#000" stroke="#000" stroke-width="0.1" textLength="35.0" lengthAdjust="spacingAndGlyphs">Dose (mg)</text>
<line x1="53.8" y1="371.2" x2="65.0" y2="371.2" stroke="#1010f0" stroke-width="1.4"/>
<circle cx="59.4" cy="371.2" r="2.2" fill="#1010f0"/>
<text x="69.4" y="373.3" font-size="5.6" text-anchor="start" font-weight="normal" fill="#111" stroke="#111" stroke-width="0.0" textLength="42.1" lengthAdjust="spacingAndGlyphs">Low (&lt;  10mg)</text>
<line x1="131.6" y1="371.2" x2="142.6" y2="371.2" stroke="#f01010" stroke-width="1.4"/>
<circle cx="137.1" cy="371.2" r="2.2" fill="#f01010"/>
<text x="146.8" y="373.3" font-size="5.6" text-anchor="start" font-weight="normal" fill="#111" stroke="#111" stroke-width="0.0" textLength="71.1" lengthAdjust="spacingAndGlyphs">Intermediate(10-15mg)</text>
<line x1="236.3" y1="371.2" x2="248.0" y2="371.2" stroke="#0b6b0b" stroke-width="1.4"/>
<circle cx="242.15" cy="371.2" r="2.2" fill="#0b6b0b"/>
<text x="252.0" y="373.3" font-size="5.6" text-anchor="start" font-weight="normal" fill="#111" stroke="#111" stroke-width="0.0" textLength="44.2" lengthAdjust="spacingAndGlyphs">High (&gt;  15mg)</text>
</svg></body></html>
